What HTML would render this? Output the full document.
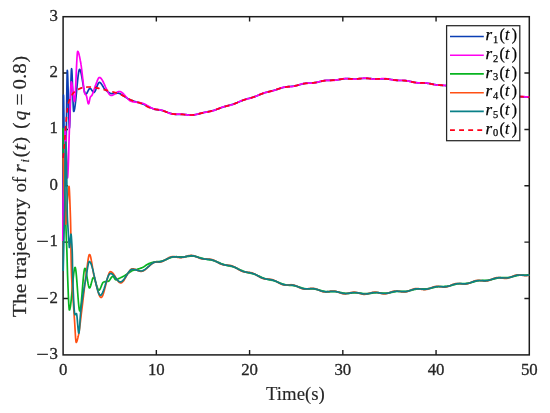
<!DOCTYPE html>
<html lang="en"><head><meta charset="utf-8"><title>Trajectory of r_i(t)</title>
<style>html,body{margin:0;padding:0;background:#fff}svg{display:block}</style></head>
<body>
<svg width="550" height="413" viewBox="0 0 550 413">
<rect width="550" height="413" fill="#fff"/>
<g stroke="#1c1c1c" fill="none">
<rect x="63.1" y="16.7" width="466.2" height="338.2" stroke-width="1.5"/>
<path d="M156.34 354.9 v-4.9 M156.34 16.7 v4.9 M249.58 354.9 v-4.9 M249.58 16.7 v4.9 M342.82 354.9 v-4.9 M342.82 16.7 v4.9 M436.06 354.9 v-4.9 M436.06 16.7 v4.9 M63.1 73.07 h4.9 M529.3 73.07 h-4.9 M63.1 129.43 h4.9 M529.3 129.43 h-4.9 M63.1 185.80 h4.9 M529.3 185.80 h-4.9 M63.1 242.17 h4.9 M529.3 242.17 h-4.9 M63.1 298.53 h4.9 M529.3 298.53 h-4.9 " stroke-width="1.4"/>
</g>
<g fill="none" stroke-width="1.7" stroke-linejoin="round">
<path d="M63.2 215.0 L63.3 160.4 L63.4 114.4 L63.5 95.0 L63.5 95.0 L63.6 96.8 L63.7 101.7 L63.8 108.9 L63.9 117.5 L64.0 126.7 L64.1 135.8 L64.2 143.8 L64.3 150.0 L64.3 150.0 L64.4 155.1 L64.5 160.5 L64.6 165.7 L64.7 170.8 L64.8 175.3 L64.9 179.3 L65.0 182.3 L65.1 184.3 L65.2 185.0 L65.2 185.0 L65.3 184.2 L65.4 182.0 L65.5 178.6 L65.6 174.2 L65.7 169.1 L65.8 163.4 L65.9 157.4 L66.0 151.4 L66.1 145.5 L66.2 140.0 L66.2 140.0 L66.3 134.0 L66.4 126.9 L66.5 119.0 L66.6 110.6 L66.7 102.1 L66.8 94.0 L66.9 86.5 L67.0 80.0 L67.1 74.9 L67.2 71.6 L67.3 70.4 L67.3 70.4 L67.4 70.8 L67.5 71.9 L67.6 73.6 L67.7 75.9 L67.8 78.6 L67.9 81.8 L68.0 85.3 L68.1 89.1 L68.2 93.1 L68.3 97.1 L68.4 101.3 L68.5 105.3 L68.6 109.3 L68.7 113.1 L68.8 116.6 L68.9 119.8 L69.0 122.5 L69.1 124.8 L69.2 126.5 L69.3 127.6 L69.4 128.0 L69.4 128.0 L69.5 127.6 L69.6 126.6 L69.7 125.0 L69.8 122.8 L69.9 120.2 L70.0 117.2 L70.1 113.8 L70.2 110.2 L70.3 106.3 L70.4 102.4 L70.5 98.3 L70.6 94.3 L70.7 90.4 L70.8 86.5 L70.9 82.9 L71.0 79.5 L71.1 76.5 L71.2 73.9 L71.3 71.7 L71.4 70.1 L71.5 69.1 L71.6 68.7 L71.6 68.7 L71.7 69.0 L71.8 69.8 L71.9 71.1 L72.0 72.8 L72.1 74.8 L72.2 77.2 L72.3 79.8 L72.4 82.6 L72.5 85.5 L72.6 88.6 L72.7 91.6 L72.8 94.7 L72.9 97.6 L73.0 100.4 L73.1 103.0 L73.2 105.4 L73.3 107.4 L73.4 109.1 L73.5 110.4 L73.6 111.2 L73.7 111.5 L73.7 111.5 L73.8 111.5 L73.9 111.4 L74.0 111.2 L74.1 110.9 L74.2 110.6 L74.3 110.3 L74.4 109.9 L74.5 109.4 L74.6 108.9 L74.7 108.3 L74.8 107.7 L74.9 107.0 L75.0 106.3 L75.1 105.5 L75.2 104.7 L75.3 103.9 L75.4 103.0 L75.5 102.1 L75.6 101.2 L75.7 100.3 L75.8 99.3 L75.9 98.3 L76.0 97.3 L76.1 96.3 L76.2 95.2 L76.3 94.2 L76.4 93.1 L76.5 92.1 L76.6 91.0 L76.7 89.9 L76.8 88.8 L76.9 87.8 L77.0 86.7 L77.1 85.7 L77.2 84.6 L77.3 83.6 L77.4 82.6 L77.5 81.6 L77.6 80.6 L77.7 79.7 L77.8 78.8 L77.9 77.9 L78.0 77.0 L78.1 76.2 L78.2 75.4 L78.3 74.6 L78.4 73.9 L78.5 73.2 L78.6 72.6 L78.7 72.0 L78.8 71.5 L78.9 71.0 L79.0 70.6 L79.1 70.3 L79.2 70.0 L79.3 69.7 L79.4 69.5 L79.5 69.4 L79.6 69.4 L79.6 69.4 L79.7 69.4 L79.8 69.5 L79.9 69.6 L80.0 69.7 L80.1 69.9 L80.2 70.1 L80.3 70.3 L80.4 70.6 L80.5 70.9 L80.6 71.2 L80.7 71.5 L80.8 71.9 L80.9 72.3 L81.0 72.7 L81.1 73.2 L81.2 73.6 L81.3 74.1 L81.4 74.6 L81.5 75.1 L81.6 75.6 L81.7 76.2 L81.8 76.8 L81.9 77.3 L82.0 77.9 L82.1 78.5 L82.2 79.1 L82.3 79.7 L82.4 80.3 L82.5 80.9 L82.6 81.5 L82.7 82.1 L82.8 82.7 L82.9 83.3 L83.0 83.9 L83.1 84.5 L83.2 85.1 L83.3 85.7 L83.4 86.3 L83.5 86.8 L83.6 87.4 L83.7 88.0 L83.8 88.5 L83.9 89.0 L84.0 89.5 L84.1 90.0 L84.2 90.4 L84.3 90.9 L84.4 91.3 L84.5 91.7 L84.6 92.1 L84.7 92.4 L84.8 92.7 L84.9 93.0 L85.0 93.3 L85.1 93.5 L85.2 93.7 L85.3 93.9 L85.4 94.0 L85.5 94.1 L85.6 94.2 L85.7 94.2 L85.7 94.2 L85.8 94.2 L85.9 94.2 L86.0 94.1 L86.1 94.1 L86.2 94.0 L86.3 93.9 L86.4 93.8 L86.5 93.7 L86.6 93.5 L86.7 93.4 L86.8 93.3 L86.9 93.1 L87.0 92.9 L87.1 92.8 L87.2 92.6 L87.3 92.4 L87.4 92.2 L87.5 92.0 L87.6 91.8 L87.7 91.6 L87.8 91.4 L87.9 91.2 L88.0 91.0 L88.1 90.8 L88.2 90.6 L88.3 90.4 L88.4 90.2 L88.5 90.0 L88.6 89.8 L88.7 89.7 L88.8 89.5 L88.9 89.3 L89.0 89.2 L89.1 89.1 L89.2 88.9 L89.3 88.8 L89.4 88.7 L89.5 88.6 L89.6 88.5 L89.7 88.5 L89.8 88.4 L89.9 88.4 L90.0 88.4 L90.0 88.4 L90.1 88.4 L90.2 88.4 L90.3 88.5 L90.4 88.5 L90.5 88.6 L90.6 88.6 L90.7 88.7 L90.8 88.8 L90.9 88.9 L91.0 89.0 L91.1 89.2 L91.2 89.3 L91.3 89.4 L91.4 89.5 L91.5 89.7 L91.6 89.8 L91.7 90.0 L91.8 90.1 L91.9 90.3 L92.0 90.4 L92.1 90.6 L92.2 90.7 L92.3 90.9 L92.4 91.0 L92.5 91.2 L92.6 91.3 L92.7 91.4 L92.8 91.5 L92.9 91.7 L93.0 91.8 L93.1 91.9 L93.2 92.0 L93.3 92.1 L93.4 92.1 L93.5 92.2 L93.6 92.2 L93.7 92.3 L93.8 92.3 L93.9 92.3 L93.9 92.3 L94.0 92.3 L94.1 92.3 L94.2 92.2 L94.3 92.2 L94.4 92.1 L94.5 92.0 L94.6 91.9 L94.7 91.7 L94.8 91.6 L94.9 91.4 L95.0 91.3 L95.1 91.1 L95.2 90.9 L95.3 90.7 L95.4 90.5 L95.5 90.3 L95.6 90.0 L95.7 89.8 L95.8 89.6 L95.9 89.3 L96.0 89.1 L96.1 88.8 L96.2 88.6 L96.3 88.3 L96.4 88.0 L96.5 87.8 L96.6 87.5 L96.7 87.2 L96.8 86.9 L96.9 86.7 L97.0 86.4 L97.1 86.1 L97.2 85.9 L97.3 85.6 L97.4 85.4 L97.5 85.1 L97.6 84.9 L97.7 84.7 L97.8 84.4 L97.9 84.2 L98.0 84.0 L98.1 83.8 L98.2 83.6 L98.3 83.4 L98.4 83.3 L98.5 83.1 L98.6 83.0 L98.7 82.8 L98.8 82.7 L98.9 82.6 L99.0 82.5 L99.1 82.5 L99.2 82.4 L99.3 82.4 L99.4 82.4 L99.4 82.4 L99.5 82.4 L99.6 82.4 L99.7 82.4 L99.8 82.5 L99.9 82.5 L100.0 82.6 L100.5 82.9 L101.0 83.5 L101.5 84.1 L102.0 84.9 L102.5 85.7 L103.0 86.5 L103.5 87.4 L104.0 88.2 L104.5 88.9 L105.0 89.5 L105.5 90.0 L106.0 90.4 L106.5 90.8 L107.0 91.2 L107.5 91.6 L108.0 92.0 L108.5 92.3 L109.0 92.6 L109.5 92.9 L110.0 93.2 L110.5 93.4 L111.0 93.5 L111.5 93.6 L111.8 93.6 L112.0 93.6 L112.5 93.6 L113.0 93.6 L113.5 93.5 L114.0 93.5 L114.5 93.4 L115.0 93.4 L115.5 93.4 L116.0 93.3 L116.5 93.3 L117.0 93.2 L117.5 93.2 L118.0 93.2 L118.2 93.2 L118.5 93.2 L119.0 93.3 L119.5 93.5 L120.0 93.7 L120.5 93.9 L121.0 94.2 L121.5 94.6 L122.0 94.9 L122.5 95.2 L123.0 95.6 L123.5 95.9 L124.0 96.2 L124.5 96.5 L125.0 96.8 L125.5 97.1 L126.0 97.4 L126.5 97.8 L127.0 98.1 L127.5 98.4 L128.0 98.7 L128.5 99.0 L129.0 99.3 L129.5 99.6 L130.0 99.8 L130.5 100.0 L131.0 100.2 L131.5 100.4 L132.0 100.6 L132.5 100.8 L133.0 100.9 L133.5 101.1 L134.0 101.2 L134.5 101.4 L135.0 101.5 L135.5 101.7 L136.0 101.8 L136.5 102.0 L137.0 102.1 L137.5 102.3 L138.0 102.4 L138.5 102.5 L139.0 102.7 L139.5 102.8 L140.0 103.0 L140.5 103.2 L141.0 103.3 L141.5 103.5 L141.8 103.6 L142.0 103.7 L142.5 103.9 L143.0 104.1 L143.5 104.3 L144.0 104.5 L144.5 104.7 L145.0 105.0 L145.5 105.2 L146.0 105.5 L146.5 105.7 L147.0 106.0 L147.5 106.2 L148.0 106.5 L148.5 106.7 L149.0 107.0 L149.5 107.2 L150.0 107.4 L150.5 107.7 L151.0 107.9 L151.5 108.1 L152.0 108.3 L152.5 108.5 L153.0 108.7 L153.5 108.9 L154.0 109.0 L154.5 109.2 L155.0 109.3 L155.5 109.4 L156.0 109.5 L156.5 109.6 L157.0 109.6 L157.5 109.7 L158.0 109.8 L158.5 109.8 L159.0 109.9 L159.5 109.9 L160.0 110.0 L160.5 110.1 L161.0 110.2 L161.5 110.3 L162.0 110.4 L162.5 110.6 L163.0 110.7 L163.5 110.9 L164.0 111.0 L164.5 111.2 L165.0 111.4 L165.5 111.6 L166.0 111.8 L166.5 112.0 L167.0 112.2 L167.5 112.3 L168.0 112.5 L168.5 112.7 L169.0 112.9 L169.5 113.1 L170.0 113.3 L170.5 113.4 L171.0 113.6 L171.5 113.7 L172.0 113.8 L172.5 113.9 L173.0 114.0 L173.5 114.1 L174.0 114.2 L174.5 114.2 L175.0 114.3 L175.5 114.3 L176.0 114.3 L176.5 114.3 L177.0 114.3 L177.5 114.4 L178.0 114.4 L178.5 114.3 L179.0 114.3 L179.5 114.3 L180.0 114.3 L180.5 114.3 L181.0 114.3 L181.5 114.4 L182.0 114.4 L182.5 114.4 L183.0 114.4 L183.5 114.4 L184.0 114.5 L184.5 114.5 L185.0 114.6 L185.5 114.6 L186.0 114.7 L186.5 114.7 L187.0 114.8 L187.5 114.8 L188.0 114.9 L188.5 114.9 L189.0 115.0 L189.5 115.0 L190.0 115.0 L190.5 115.0 L191.0 115.0 L191.5 115.0 L192.0 115.0 L192.5 115.0 L193.0 115.0 L193.5 114.9 L194.0 114.9 L194.5 114.8 L195.0 114.7 L195.5 114.6 L196.0 114.5 L196.5 114.4 L197.0 114.3 L197.5 114.2 L198.0 114.1 L198.5 114.0 L199.0 113.8 L199.5 113.7 L200.0 113.6 L200.5 113.4 L201.0 113.3 L201.5 113.1 L202.0 113.0 L202.5 112.9 L203.0 112.8 L203.5 112.6 L204.0 112.5 L204.5 112.4 L205.0 112.3 L205.5 112.2 L206.0 112.1 L206.5 112.0 L207.0 111.9 L207.5 111.8 L208.0 111.7 L208.5 111.6 L209.0 111.5 L209.5 111.4 L210.0 111.3 L210.5 111.2 L211.0 111.1 L211.5 111.0 L212.0 110.9 L212.5 110.7 L213.0 110.6 L213.5 110.5 L214.0 110.3 L214.5 110.2 L215.0 110.0 L215.5 109.8 L216.0 109.7 L216.5 109.5 L217.0 109.3 L217.5 109.1 L218.0 108.9 L218.5 108.8 L219.0 108.6 L219.5 108.4 L220.0 108.2 L220.5 108.0 L221.0 107.8 L221.5 107.6 L222.0 107.4 L222.5 107.3 L223.0 107.1 L223.5 106.9 L224.0 106.8 L224.5 106.6 L225.0 106.4 L225.5 106.3 L226.0 106.2 L226.5 106.0 L227.0 105.9 L227.5 105.8 L228.0 105.6 L228.5 105.5 L229.0 105.4 L229.5 105.2 L230.0 105.1 L230.5 105.0 L231.0 104.8 L231.5 104.7 L232.0 104.6 L232.5 104.4 L233.0 104.3 L233.5 104.1 L234.0 103.9 L234.5 103.7 L235.0 103.6 L235.5 103.4 L236.0 103.2 L236.5 103.0 L237.0 102.8 L237.5 102.6 L238.0 102.3 L238.5 102.1 L239.0 101.9 L239.5 101.7 L240.0 101.5 L240.5 101.3 L241.0 101.1 L241.5 100.9 L242.0 100.6 L242.5 100.4 L243.0 100.3 L243.5 100.1 L244.0 99.9 L244.5 99.7 L245.0 99.5 L245.5 99.4 L246.0 99.2 L246.5 99.1 L247.0 98.9 L247.5 98.8 L248.0 98.6 L248.5 98.5 L249.0 98.4 L249.5 98.2 L250.0 98.1 L250.5 98.0 L251.0 97.8 L251.5 97.7 L252.0 97.5 L252.5 97.4 L253.0 97.2 L253.5 97.1 L254.0 96.9 L254.5 96.7 L255.0 96.6 L255.5 96.4 L256.0 96.2 L256.5 96.0 L257.0 95.8 L257.5 95.6 L258.0 95.4 L258.5 95.2 L259.0 95.0 L259.5 94.8 L260.0 94.6 L260.5 94.4 L261.0 94.2 L261.5 94.0 L262.0 93.8 L262.5 93.6 L263.0 93.4 L263.5 93.2 L264.0 93.0 L264.5 92.9 L265.0 92.7 L265.5 92.5 L266.0 92.4 L266.5 92.3 L267.0 92.1 L267.5 92.0 L268.0 91.9 L268.5 91.7 L269.0 91.6 L269.5 91.5 L270.0 91.4 L270.5 91.2 L271.0 91.1 L271.5 91.0 L272.0 90.9 L272.5 90.7 L273.0 90.6 L273.5 90.5 L274.0 90.3 L274.5 90.2 L275.0 90.1 L275.5 89.9 L276.0 89.8 L276.5 89.6 L277.0 89.4 L277.5 89.3 L278.0 89.1 L278.5 88.9 L279.0 88.8 L279.5 88.6 L280.0 88.4 L280.5 88.3 L281.0 88.1 L281.5 88.0 L282.0 87.8 L282.5 87.7 L283.0 87.5 L283.5 87.4 L284.0 87.3 L284.5 87.2 L285.0 87.1 L285.5 87.0 L286.0 86.9 L286.5 86.9 L287.0 86.8 L287.5 86.7 L288.0 86.7 L288.5 86.6 L289.0 86.6 L289.5 86.6 L290.0 86.5 L290.5 86.5 L291.0 86.4 L291.5 86.4 L292.0 86.3 L292.5 86.3 L293.0 86.2 L293.5 86.2 L294.0 86.1 L294.5 86.0 L295.0 85.9 L295.5 85.8 L296.0 85.7 L296.5 85.6 L297.0 85.5 L297.5 85.3 L298.0 85.2 L298.5 85.1 L299.0 84.9 L299.5 84.8 L300.0 84.6 L300.5 84.5 L301.0 84.3 L301.5 84.2 L302.0 84.1 L302.5 83.9 L303.0 83.8 L303.5 83.7 L304.0 83.6 L304.5 83.5 L305.0 83.4 L305.5 83.4 L306.0 83.3 L306.5 83.2 L307.0 83.2 L307.5 83.2 L308.0 83.1 L308.5 83.1 L309.0 83.1 L309.5 83.1 L310.0 83.0 L310.5 83.0 L311.0 83.0 L311.5 83.0 L312.0 82.9 L312.5 82.9 L313.0 82.9 L313.5 82.8 L314.0 82.8 L314.5 82.7 L315.0 82.7 L315.5 82.6 L316.0 82.5 L316.5 82.4 L317.0 82.3 L317.5 82.2 L318.0 82.1 L318.5 82.0 L319.0 81.9 L319.5 81.7 L320.0 81.6 L320.5 81.5 L321.0 81.4 L321.5 81.2 L322.0 81.1 L322.5 81.0 L323.0 80.9 L323.5 80.8 L324.0 80.7 L324.5 80.6 L325.0 80.6 L325.5 80.5 L326.0 80.4 L326.5 80.4 L327.0 80.4 L327.5 80.3 L328.0 80.3 L328.5 80.3 L329.0 80.3 L329.5 80.3 L330.0 80.3 L330.5 80.3 L331.0 80.2 L331.5 80.2 L332.0 80.2 L332.5 80.2 L333.0 80.2 L333.5 80.2 L334.0 80.2 L334.5 80.1 L335.0 80.1 L335.5 80.1 L336.0 80.0 L336.5 80.0 L337.0 79.9 L337.5 79.8 L338.0 79.8 L338.5 79.7 L339.0 79.6 L339.5 79.5 L340.0 79.4 L340.5 79.3 L341.0 79.3 L341.5 79.2 L342.0 79.1 L342.5 79.0 L343.0 79.0 L343.5 78.9 L344.0 78.8 L344.5 78.8 L345.0 78.7 L345.5 78.7 L346.0 78.7 L346.5 78.7 L347.0 78.7 L347.5 78.7 L348.0 78.7 L348.5 78.7 L349.0 78.7 L349.5 78.7 L350.0 78.7 L350.5 78.8 L351.0 78.8 L351.5 78.8 L352.0 78.9 L352.5 78.9 L353.0 78.9 L353.5 78.9 L354.0 79.0 L354.5 79.0 L355.0 79.0 L355.5 79.0 L356.0 79.0 L356.5 78.9 L357.0 78.9 L357.5 78.9 L358.0 78.9 L358.5 78.8 L359.0 78.8 L359.5 78.7 L360.0 78.7 L360.5 78.6 L361.0 78.6 L361.5 78.5 L362.0 78.5 L362.5 78.5 L363.0 78.4 L363.5 78.4 L364.0 78.4 L364.5 78.3 L365.0 78.3 L365.5 78.3 L366.0 78.3 L366.5 78.3 L367.0 78.3 L367.5 78.3 L368.0 78.4 L368.5 78.4 L369.0 78.5 L369.5 78.5 L370.0 78.5 L370.5 78.6 L371.0 78.6 L371.5 78.7 L372.0 78.8 L372.5 78.8 L373.0 78.9 L373.5 78.9 L374.0 78.9 L374.5 79.0 L375.0 79.0 L375.5 79.0 L376.0 79.0 L376.5 79.0 L377.0 79.0 L377.5 79.0 L378.0 79.0 L378.5 79.0 L379.0 79.0 L379.5 79.0 L380.0 78.9 L380.5 78.9 L381.0 78.9 L381.5 78.9 L382.0 78.8 L382.5 78.8 L383.0 78.8 L383.5 78.8 L384.0 78.8 L384.5 78.8 L385.0 78.8 L385.5 78.8 L386.0 78.8 L386.5 78.8 L387.0 78.9 L387.5 78.9 L388.0 79.0 L388.5 79.1 L389.0 79.1 L389.5 79.2 L390.0 79.3 L390.5 79.4 L391.0 79.5 L391.5 79.5 L392.0 79.6 L392.5 79.7 L393.0 79.8 L393.5 79.9 L394.0 80.0 L394.5 80.0 L395.0 80.1 L395.5 80.2 L396.0 80.2 L396.5 80.3 L397.0 80.3 L397.5 80.4 L398.0 80.4 L398.5 80.4 L399.0 80.5 L399.5 80.5 L400.0 80.5 L400.5 80.5 L401.0 80.5 L401.5 80.5 L402.0 80.5 L402.5 80.5 L403.0 80.5 L403.5 80.6 L404.0 80.6 L404.5 80.6 L405.0 80.6 L405.5 80.7 L406.0 80.7 L406.5 80.8 L407.0 80.9 L407.5 80.9 L408.0 81.0 L408.5 81.1 L409.0 81.2 L409.5 81.3 L410.0 81.4 L410.5 81.5 L411.0 81.6 L411.5 81.7 L412.0 81.8 L412.5 81.9 L413.0 82.1 L413.5 82.2 L414.0 82.3 L414.5 82.4 L415.0 82.5 L415.5 82.5 L416.0 82.6 L416.5 82.7 L417.0 82.7 L417.5 82.8 L418.0 82.8 L418.5 82.9 L419.0 82.9 L419.5 82.9 L420.0 82.9 L420.5 83.0 L421.0 83.0 L421.5 83.0 L422.0 83.0 L422.5 83.0 L423.0 83.0 L423.5 83.0 L424.0 83.0 L424.5 83.0 L425.0 83.1 L425.5 83.1 L426.0 83.1 L426.5 83.2 L427.0 83.2 L427.5 83.3 L428.0 83.3 L428.5 83.4 L429.0 83.5 L429.5 83.5 L430.0 83.6 L430.5 83.7 L431.0 83.8 L431.5 83.9 L432.0 84.0 L432.5 84.1 L433.0 84.2 L433.5 84.3 L434.0 84.4 L434.5 84.5 L435.0 84.6 L435.5 84.7 L436.0 84.8 L436.5 84.9 L437.0 84.9 L437.5 85.0 L438.0 85.1 L438.5 85.1 L439.0 85.2 L439.5 85.2 L440.0 85.2 L440.5 85.3 L441.0 85.3 L441.5 85.3 L442.0 85.3 L442.5 85.4 L443.0 85.4 L443.5 85.4 L444.0 85.5 L444.5 85.5 L445.0 85.5 L445.5 85.6 L446.0 85.6 L446.5 85.7 L447.0 85.8 L447.5 85.8 L448.0 85.9 L448.5 86.0 L449.0 86.1 L449.5 86.2 L450.0 86.3 L450.5 86.4 L451.0 86.5 L451.5 86.6 L452.0 86.7 L452.5 86.8 L453.0 87.0 L453.5 87.1 L454.0 87.2 L454.5 87.3 L455.0 87.4 L455.5 87.5 L456.0 87.6 L456.5 87.7 L457.0 87.8 L457.5 87.8 L458.0 87.9 L458.5 88.0 L459.0 88.0 L459.5 88.1 L460.0 88.1 L460.5 88.2 L461.0 88.2 L461.5 88.2 L462.0 88.3 L462.5 88.3 L463.0 88.3 L463.5 88.3 L464.0 88.4 L464.5 88.4 L465.0 88.4 L465.5 88.5 L466.0 88.5 L466.5 88.6 L467.0 88.7 L467.5 88.7 L468.0 88.8 L468.5 88.9 L469.0 89.0 L469.5 89.1 L470.0 89.2 L470.5 89.3 L471.0 89.4 L471.5 89.5 L472.0 89.7 L472.5 89.8 L473.0 89.9 L473.5 90.0 L474.0 90.1 L474.5 90.3 L475.0 90.4 L475.5 90.5 L476.0 90.6 L476.5 90.7 L477.0 90.8 L477.5 90.9 L478.0 91.0 L478.5 91.0 L479.0 91.1 L479.5 91.1 L480.0 91.2 L480.5 91.2 L481.0 91.3 L481.5 91.3 L482.0 91.3 L482.5 91.4 L483.0 91.4 L483.5 91.4 L484.0 91.4 L484.5 91.5 L485.0 91.5 L485.5 91.5 L486.0 91.6 L486.5 91.6 L487.0 91.7 L487.5 91.7 L488.0 91.8 L488.5 91.9 L489.0 91.9 L489.5 92.0 L490.0 92.1 L490.5 92.2 L491.0 92.3 L491.5 92.4 L492.0 92.5 L492.5 92.6 L493.0 92.8 L493.5 92.9 L494.0 93.0 L494.5 93.1 L495.0 93.2 L495.5 93.3 L496.0 93.4 L496.5 93.5 L497.0 93.6 L497.5 93.7 L498.0 93.7 L498.5 93.8 L499.0 93.9 L499.5 93.9 L500.0 94.0 L500.5 94.0 L501.0 94.0 L501.5 94.1 L502.0 94.1 L502.5 94.1 L503.0 94.1 L503.5 94.2 L504.0 94.2 L504.5 94.2 L505.0 94.2 L505.5 94.2 L506.0 94.3 L506.5 94.3 L507.0 94.4 L507.5 94.4 L508.0 94.5 L508.5 94.5 L509.0 94.6 L509.5 94.7 L510.0 94.8 L510.5 94.9 L511.0 95.0 L511.5 95.1 L512.0 95.2 L512.5 95.3 L513.0 95.4 L513.5 95.5 L514.0 95.6 L514.5 95.7 L515.0 95.8 L515.5 95.9 L516.0 96.0 L516.5 96.1 L517.0 96.2 L517.5 96.3 L518.0 96.4 L518.5 96.5 L519.0 96.5 L519.5 96.6 L520.0 96.6 L520.5 96.7 L521.0 96.7 L521.5 96.8 L522.0 96.8 L522.5 96.8 L523.0 96.8 L523.5 96.9 L524.0 96.9 L524.5 96.9 L525.0 96.9 L525.5 96.9 L526.0 97.0 L526.5 97.0 L527.0 97.0 L527.5 97.1 L528.0 97.1 L528.5 97.2 L529.0 97.3 L529.3 97.3" stroke="#0b3fb4"/>
<path d="M62.8 241.0 L62.9 229.1 L63.0 217.2 L63.1 206.2 L63.2 196.8 L63.3 190.0 L63.3 190.0 L63.4 184.8 L63.5 179.8 L63.6 174.9 L63.7 170.2 L63.8 165.7 L63.9 161.3 L64.0 157.2 L64.1 153.4 L64.2 149.7 L64.3 146.3 L64.4 143.2 L64.5 140.4 L64.6 137.8 L64.7 135.5 L64.8 133.6 L64.9 132.0 L65.0 130.7 L65.1 129.8 L65.2 129.2 L65.3 129.0 L65.3 129.0 L65.4 129.3 L65.5 130.1 L65.6 131.5 L65.7 133.3 L65.8 135.4 L65.9 137.9 L66.0 140.7 L66.1 143.7 L66.2 146.9 L66.3 150.2 L66.4 153.5 L66.5 156.8 L66.6 160.1 L66.7 163.3 L66.8 166.3 L66.9 169.1 L67.0 171.6 L67.1 173.7 L67.2 175.5 L67.3 176.9 L67.4 177.7 L67.5 178.0 L67.5 178.0 L67.6 177.7 L67.7 176.9 L67.8 175.7 L67.9 174.1 L68.0 172.2 L68.1 170.0 L68.2 167.7 L68.3 165.2 L68.4 162.6 L68.5 160.0 L68.5 160.0 L68.6 156.9 L68.7 152.9 L68.8 148.8 L68.9 145.0 L68.9 145.0 L69.0 141.6 L69.1 138.4 L69.2 135.3 L69.3 132.3 L69.4 129.3 L69.5 126.2 L69.6 123.2 L69.7 120.0 L69.7 120.0 L69.8 116.6 L69.9 113.0 L70.0 109.4 L70.1 105.9 L70.2 102.7 L70.3 100.0 L70.3 100.0 L70.4 97.5 L70.5 95.0 L70.6 92.5 L70.7 90.1 L70.8 87.9 L70.9 85.9 L71.0 84.2 L71.1 82.9 L71.2 82.1 L71.3 81.8 L71.3 81.8 L71.4 81.9 L71.5 82.0 L71.6 82.3 L71.7 82.6 L71.8 83.1 L71.9 83.6 L72.0 84.2 L72.1 84.9 L72.2 85.6 L72.3 86.3 L72.4 87.2 L72.5 88.0 L72.6 88.9 L72.7 89.8 L72.8 90.7 L72.9 91.6 L73.0 92.5 L73.1 93.4 L73.2 94.3 L73.3 95.2 L73.4 96.0 L73.5 96.9 L73.6 97.6 L73.7 98.3 L73.8 99.0 L73.9 99.6 L74.0 100.1 L74.1 100.6 L74.2 100.9 L74.3 101.2 L74.4 101.3 L74.5 101.4 L74.5 101.4 L74.6 101.3 L74.7 100.8 L74.8 100.2 L74.9 99.3 L75.0 98.1 L75.1 96.8 L75.2 95.3 L75.3 93.6 L75.4 91.8 L75.5 89.8 L75.6 87.7 L75.7 85.6 L75.8 83.3 L75.9 81.1 L76.0 78.7 L76.1 76.4 L76.2 74.1 L76.3 71.7 L76.4 69.5 L76.5 67.2 L76.6 65.1 L76.7 63.0 L76.8 61.0 L76.9 59.2 L77.0 57.5 L77.1 56.0 L77.2 54.7 L77.3 53.5 L77.4 52.6 L77.5 52.0 L77.6 51.5 L77.7 51.4 L77.7 51.4 L77.8 51.4 L77.9 51.5 L78.0 51.6 L78.1 51.7 L78.2 51.9 L78.3 52.1 L78.4 52.3 L78.5 52.6 L78.6 52.9 L78.7 53.2 L78.8 53.5 L78.9 53.9 L79.0 54.3 L79.1 54.7 L79.2 55.1 L79.3 55.5 L79.4 56.0 L79.5 56.4 L79.6 56.9 L79.7 57.4 L79.8 57.9 L79.9 58.4 L80.0 58.9 L80.1 59.4 L80.2 59.9 L80.3 60.5 L80.4 61.0 L80.5 61.5 L80.6 62.0 L80.6 62.0 L80.7 62.5 L80.8 63.1 L80.9 63.7 L81.0 64.4 L81.1 65.0 L81.2 65.8 L81.3 66.5 L81.4 67.3 L81.5 68.1 L81.6 68.9 L81.7 69.7 L81.8 70.6 L81.9 71.4 L82.0 72.3 L82.1 73.1 L82.2 74.0 L82.3 74.9 L82.4 75.8 L82.5 76.6 L82.6 77.5 L82.7 78.3 L82.8 79.2 L82.9 80.0 L82.9 80.0 L83.0 80.8 L83.1 81.8 L83.2 82.7 L83.3 83.7 L83.4 84.7 L83.5 85.7 L83.6 86.7 L83.7 87.7 L83.8 88.7 L83.9 89.5 L84.0 90.3 L84.1 91.0 L84.2 91.7 L84.3 92.1 L84.4 92.5 L84.4 92.5 L84.5 92.8 L84.6 93.0 L84.7 93.2 L84.8 93.4 L84.9 93.6 L85.0 93.8 L85.1 93.9 L85.2 94.0 L85.3 94.2 L85.4 94.3 L85.5 94.4 L85.6 94.5 L85.7 94.6 L85.8 94.8 L85.9 94.9 L86.0 95.0 L86.1 95.2 L86.2 95.4 L86.3 95.6 L86.4 95.8 L86.4 95.8 L86.5 96.1 L86.6 96.4 L86.7 96.8 L86.8 97.2 L86.9 97.6 L87.0 98.1 L87.1 98.6 L87.2 99.1 L87.3 99.7 L87.4 100.2 L87.5 100.7 L87.6 101.2 L87.7 101.7 L87.8 102.2 L87.9 102.6 L88.0 103.0 L88.1 103.3 L88.2 103.5 L88.3 103.7 L88.4 103.9 L88.5 103.9 L88.5 103.9 L88.6 103.9 L88.7 103.7 L88.8 103.5 L88.9 103.2 L89.0 102.9 L89.1 102.5 L89.2 102.1 L89.3 101.6 L89.4 101.1 L89.5 100.6 L89.6 100.1 L89.7 99.6 L89.8 99.1 L89.9 98.6 L90.0 98.2 L90.1 97.8 L90.2 97.5 L90.3 97.2 L90.4 97.0 L90.4 97.0 L90.5 96.8 L90.6 96.7 L90.7 96.6 L90.8 96.5 L90.9 96.4 L91.0 96.3 L91.1 96.2 L91.2 96.1 L91.3 96.0 L91.4 95.9 L91.5 95.8 L91.6 95.7 L91.7 95.6 L91.8 95.4 L91.9 95.3 L91.9 95.3 L92.0 95.1 L92.1 95.0 L92.2 94.8 L92.3 94.6 L92.4 94.4 L92.5 94.1 L92.6 93.9 L92.7 93.7 L92.8 93.4 L92.9 93.1 L93.0 92.9 L93.1 92.6 L93.2 92.3 L93.3 92.0 L93.4 91.7 L93.5 91.4 L93.6 91.1 L93.7 90.8 L93.8 90.5 L93.9 90.1 L94.0 89.8 L94.1 89.5 L94.2 89.2 L94.3 88.9 L94.4 88.6 L94.5 88.3 L94.6 88.0 L94.7 87.7 L94.8 87.4 L94.9 87.1 L95.0 86.8 L95.1 86.5 L95.2 86.2 L95.3 86.0 L95.4 85.7 L95.5 85.5 L95.5 85.5 L95.6 85.3 L95.7 85.0 L95.8 84.8 L95.9 84.5 L96.0 84.2 L96.1 84.0 L96.2 83.7 L96.3 83.4 L96.4 83.2 L96.5 82.9 L96.6 82.6 L96.7 82.3 L96.8 82.1 L96.9 81.8 L97.0 81.5 L97.1 81.3 L97.2 81.0 L97.3 80.7 L97.4 80.5 L97.5 80.2 L97.6 80.0 L97.7 79.8 L97.8 79.5 L97.9 79.3 L98.0 79.1 L98.1 78.9 L98.2 78.7 L98.3 78.5 L98.4 78.4 L98.5 78.2 L98.6 78.1 L98.7 77.9 L98.8 77.8 L98.9 77.7 L99.0 77.6 L99.1 77.6 L99.2 77.5 L99.3 77.5 L99.4 77.5 L99.4 77.5 L99.5 77.5 L99.6 77.5 L99.7 77.5 L99.8 77.6 L99.9 77.6 L100.0 77.6 L100.5 77.9 L101.0 78.4 L101.5 79.0 L102.0 79.7 L102.5 80.6 L103.0 81.5 L103.5 82.5 L104.0 83.6 L104.5 84.7 L105.0 85.8 L105.5 87.0 L106.0 88.1 L106.5 89.2 L107.0 90.3 L107.5 91.3 L108.0 92.2 L108.5 93.1 L109.0 93.9 L109.5 94.5 L110.0 95.0 L110.5 95.3 L111.0 95.5 L111.2 95.5 L111.5 95.5 L112.0 95.4 L112.5 95.2 L113.0 95.0 L113.5 94.7 L114.0 94.4 L114.5 94.1 L115.0 93.7 L115.5 93.4 L116.0 93.0 L116.5 92.6 L117.0 92.3 L117.5 92.0 L118.0 91.8 L118.5 91.6 L119.0 91.5 L119.4 91.5 L119.5 91.5 L120.0 91.6 L120.5 91.7 L121.0 91.9 L121.5 92.2 L122.0 92.6 L122.5 93.0 L123.0 93.4 L123.5 93.9 L124.0 94.5 L124.5 95.0 L125.0 95.6 L125.5 96.2 L126.0 96.8 L126.5 97.3 L127.0 97.9 L127.5 98.5 L128.0 99.0 L128.5 99.5 L129.0 100.0 L129.5 100.4 L130.0 100.7 L130.5 101.0 L131.0 101.3 L131.4 101.4 L131.5 101.4 L132.0 101.5 L132.5 101.7 L133.0 101.8 L133.5 101.8 L134.0 101.9 L134.5 102.0 L135.0 102.1 L135.5 102.1 L136.0 102.2 L136.5 102.2 L137.0 102.3 L137.5 102.4 L138.0 102.4 L138.5 102.5 L139.0 102.6 L139.5 102.6 L140.0 102.7 L140.5 102.8 L141.0 102.9 L141.5 103.0 L142.0 103.1 L142.5 103.3 L143.0 103.5 L143.5 103.6 L144.0 103.9 L144.5 104.1 L145.0 104.3 L145.5 104.6 L146.0 104.9 L146.5 105.1 L147.0 105.4 L147.5 105.7 L148.0 106.0 L148.5 106.3 L149.0 106.6 L149.5 106.9 L150.0 107.1 L150.5 107.4 L151.0 107.7 L151.5 107.9 L152.0 108.2 L152.5 108.4 L153.0 108.6 L153.5 108.8 L154.0 109.0 L154.5 109.1 L155.0 109.3 L155.5 109.4 L156.0 109.4 L156.5 109.5 L157.0 109.5 L157.5 109.6 L158.0 109.6 L158.5 109.7 L159.0 109.7 L159.5 109.8 L160.0 109.9 L160.5 110.0 L161.0 110.1 L161.5 110.2 L162.0 110.3 L162.5 110.5 L163.0 110.6 L163.5 110.8 L164.0 111.0 L164.5 111.2 L165.0 111.4 L165.5 111.6 L166.0 111.8 L166.5 112.0 L167.0 112.3 L167.5 112.5 L168.0 112.7 L168.5 112.9 L169.0 113.1 L169.5 113.3 L170.0 113.4 L170.5 113.6 L171.0 113.7 L171.5 113.8 L172.0 113.9 L172.5 114.0 L173.0 114.1 L173.5 114.2 L174.0 114.2 L174.5 114.2 L175.0 114.3 L175.5 114.3 L176.0 114.3 L176.5 114.3 L177.0 114.2 L177.5 114.2 L178.0 114.2 L178.5 114.2 L179.0 114.2 L179.5 114.2 L180.0 114.2 L180.5 114.2 L181.0 114.2 L181.5 114.2 L182.0 114.2 L182.5 114.3 L183.0 114.3 L183.5 114.4 L184.0 114.4 L184.5 114.5 L185.0 114.6 L185.5 114.6 L186.0 114.7 L186.5 114.8 L187.0 114.9 L187.5 114.9 L188.0 115.0 L188.5 115.1 L189.0 115.1 L189.5 115.2 L190.0 115.2 L190.5 115.2 L191.0 115.2 L191.5 115.2 L192.0 115.2 L192.5 115.1 L193.0 115.1 L193.5 115.0 L194.0 114.9 L194.5 114.8 L195.0 114.7 L195.5 114.6 L196.0 114.5 L196.5 114.4 L197.0 114.2 L197.5 114.1 L198.0 114.0 L198.5 113.8 L199.0 113.7 L199.5 113.5 L200.0 113.4 L200.5 113.3 L201.0 113.1 L201.5 113.0 L202.0 112.9 L202.5 112.8 L203.0 112.7 L203.5 112.6 L204.0 112.5 L204.5 112.4 L205.0 112.3 L205.5 112.2 L206.0 112.1 L206.5 112.1 L207.0 112.0 L207.5 111.9 L208.0 111.8 L208.5 111.8 L209.0 111.7 L209.5 111.6 L210.0 111.5 L210.5 111.4 L211.0 111.3 L211.5 111.1 L212.0 111.0 L212.5 110.9 L213.0 110.7 L213.5 110.6 L214.0 110.4 L214.5 110.2 L215.0 110.0 L215.5 109.8 L216.0 109.7 L216.5 109.5 L217.0 109.2 L217.5 109.0 L218.0 108.8 L218.5 108.6 L219.0 108.4 L219.5 108.2 L220.0 108.0 L220.5 107.8 L221.0 107.6 L221.5 107.5 L222.0 107.3 L222.5 107.1 L223.0 107.0 L223.5 106.8 L224.0 106.7 L224.5 106.5 L225.0 106.4 L225.5 106.3 L226.0 106.2 L226.5 106.1 L227.0 106.0 L227.5 105.8 L228.0 105.7 L228.5 105.6 L229.0 105.5 L229.5 105.4 L230.0 105.3 L230.5 105.1 L231.0 105.0 L231.5 104.9 L232.0 104.7 L232.5 104.5 L233.0 104.4 L233.5 104.2 L234.0 104.0 L234.5 103.8 L235.0 103.6 L235.5 103.4 L236.0 103.2 L236.5 102.9 L237.0 102.7 L237.5 102.5 L238.0 102.2 L238.5 102.0 L239.0 101.8 L239.5 101.6 L240.0 101.3 L240.5 101.1 L241.0 100.9 L241.5 100.7 L242.0 100.5 L242.5 100.3 L243.0 100.1 L243.5 100.0 L244.0 99.8 L244.5 99.6 L245.0 99.5 L245.5 99.4 L246.0 99.2 L246.5 99.1 L247.0 99.0 L247.5 98.8 L248.0 98.7 L248.5 98.6 L249.0 98.5 L249.5 98.4 L250.0 98.3 L250.5 98.1 L251.0 98.0 L251.5 97.8 L252.0 97.7 L252.5 97.5 L253.0 97.4 L253.5 97.2 L254.0 97.0 L254.5 96.8 L255.0 96.6 L255.5 96.4 L256.0 96.2 L256.5 96.0 L257.0 95.8 L257.5 95.6 L258.0 95.3 L258.5 95.1 L259.0 94.9 L259.5 94.6 L260.0 94.4 L260.5 94.2 L261.0 94.0 L261.5 93.8 L262.0 93.6 L262.5 93.4 L263.0 93.2 L263.5 93.1 L264.0 92.9 L264.5 92.8 L265.0 92.6 L265.5 92.5 L266.0 92.4 L266.5 92.3 L267.0 92.1 L267.5 92.0 L268.0 91.9 L268.5 91.8 L269.0 91.7 L269.5 91.6 L270.0 91.5 L270.5 91.4 L271.0 91.3 L271.5 91.2 L272.0 91.0 L272.5 90.9 L273.0 90.8 L273.5 90.6 L274.0 90.5 L274.5 90.3 L275.0 90.1 L275.5 90.0 L276.0 89.8 L276.5 89.6 L277.0 89.4 L277.5 89.2 L278.0 89.0 L278.5 88.8 L279.0 88.7 L279.5 88.5 L280.0 88.3 L280.5 88.1 L281.0 88.0 L281.5 87.8 L282.0 87.6 L282.5 87.5 L283.0 87.4 L283.5 87.3 L284.0 87.2 L284.5 87.1 L285.0 87.0 L285.5 86.9 L286.0 86.9 L286.5 86.8 L287.0 86.8 L287.5 86.8 L288.0 86.7 L288.5 86.7 L289.0 86.7 L289.5 86.7 L290.0 86.7 L290.5 86.6 L291.0 86.6 L291.5 86.6 L292.0 86.5 L292.5 86.5 L293.0 86.4 L293.5 86.3 L294.0 86.2 L294.5 86.1 L295.0 86.0 L295.5 85.9 L296.0 85.8 L296.5 85.6 L297.0 85.5 L297.5 85.3 L298.0 85.1 L298.5 85.0 L299.0 84.8 L299.5 84.7 L300.0 84.5 L300.5 84.3 L301.0 84.2 L301.5 84.0 L302.0 83.9 L302.5 83.8 L303.0 83.7 L303.5 83.6 L304.0 83.5 L304.5 83.4 L305.0 83.3 L305.5 83.3 L306.0 83.2 L306.5 83.2 L307.0 83.2 L307.5 83.2 L308.0 83.2 L308.5 83.2 L309.0 83.2 L309.5 83.2 L310.0 83.2 L310.5 83.2 L311.0 83.1 L311.5 83.1 L312.0 83.1 L312.5 83.1 L313.0 83.0 L313.5 83.0 L314.0 82.9 L314.5 82.8 L315.0 82.8 L315.5 82.7 L316.0 82.6 L316.5 82.4 L317.0 82.3 L317.5 82.2 L318.0 82.0 L318.5 81.9 L319.0 81.8 L319.5 81.6 L320.0 81.5 L320.5 81.3 L321.0 81.2 L321.5 81.1 L322.0 81.0 L322.5 80.9 L323.0 80.8 L323.5 80.7 L324.0 80.6 L324.5 80.5 L325.0 80.5 L325.5 80.4 L326.0 80.4 L326.5 80.4 L327.0 80.3 L327.5 80.3 L328.0 80.3 L328.5 80.3 L329.0 80.3 L329.5 80.4 L330.0 80.4 L330.5 80.4 L331.0 80.4 L331.5 80.4 L332.0 80.4 L332.5 80.4 L333.0 80.4 L333.5 80.3 L334.0 80.3 L334.5 80.3 L335.0 80.2 L335.5 80.2 L336.0 80.1 L336.5 80.0 L337.0 79.9 L337.5 79.8 L338.0 79.7 L338.5 79.6 L339.0 79.5 L339.5 79.4 L340.0 79.3 L340.5 79.2 L341.0 79.1 L341.5 79.0 L342.0 78.9 L342.5 78.9 L343.0 78.8 L343.5 78.7 L344.0 78.7 L344.5 78.6 L345.0 78.6 L345.5 78.6 L346.0 78.6 L346.5 78.6 L347.0 78.6 L347.5 78.6 L348.0 78.7 L348.5 78.7 L349.0 78.8 L349.5 78.8 L350.0 78.9 L350.5 78.9 L351.0 78.9 L351.5 79.0 L352.0 79.0 L352.5 79.1 L353.0 79.1 L353.5 79.1 L354.0 79.1 L354.5 79.1 L355.0 79.1 L355.5 79.1 L356.0 79.1 L356.5 79.0 L357.0 79.0 L357.5 78.9 L358.0 78.9 L358.5 78.8 L359.0 78.7 L359.5 78.7 L360.0 78.6 L360.5 78.5 L361.0 78.5 L361.5 78.4 L362.0 78.3 L362.5 78.3 L363.0 78.3 L363.5 78.2 L364.0 78.2 L364.5 78.2 L365.0 78.2 L365.5 78.2 L366.0 78.2 L366.5 78.2 L367.0 78.3 L367.5 78.3 L368.0 78.4 L368.5 78.4 L369.0 78.5 L369.5 78.6 L370.0 78.6 L370.5 78.7 L371.0 78.8 L371.5 78.8 L372.0 78.9 L372.5 79.0 L373.0 79.0 L373.5 79.1 L374.0 79.1 L374.5 79.1 L375.0 79.1 L375.5 79.1 L376.0 79.1 L376.5 79.1 L377.0 79.1 L377.5 79.1 L378.0 79.0 L378.5 79.0 L379.0 79.0 L379.5 78.9 L380.0 78.9 L380.5 78.8 L381.0 78.8 L381.5 78.7 L382.0 78.7 L382.5 78.7 L383.0 78.6 L383.5 78.6 L384.0 78.6 L384.5 78.6 L385.0 78.6 L385.5 78.7 L386.0 78.7 L386.5 78.8 L387.0 78.8 L387.5 78.9 L388.0 79.0 L388.5 79.1 L389.0 79.2 L389.5 79.3 L390.0 79.4 L390.5 79.5 L391.0 79.6 L391.5 79.7 L392.0 79.8 L392.5 79.9 L393.0 80.0 L393.5 80.1 L394.0 80.1 L394.5 80.2 L395.0 80.3 L395.5 80.3 L396.0 80.4 L396.5 80.4 L397.0 80.4 L397.5 80.4 L398.0 80.4 L398.5 80.4 L399.0 80.4 L399.5 80.4 L400.0 80.4 L400.5 80.4 L401.0 80.4 L401.5 80.4 L402.0 80.4 L402.5 80.4 L403.0 80.4 L403.5 80.4 L404.0 80.4 L404.5 80.4 L405.0 80.5 L405.5 80.5 L406.0 80.6 L406.5 80.7 L407.0 80.8 L407.5 80.9 L408.0 81.0 L408.5 81.1 L409.0 81.2 L409.5 81.3 L410.0 81.4 L410.5 81.6 L411.0 81.7 L411.5 81.8 L412.0 82.0 L412.5 82.1 L413.0 82.2 L413.5 82.3 L414.0 82.4 L414.5 82.5 L415.0 82.6 L415.5 82.7 L416.0 82.7 L416.5 82.8 L417.0 82.8 L417.5 82.9 L418.0 82.9 L418.5 82.9 L419.0 82.9 L419.5 82.9 L420.0 82.9 L420.5 82.9 L421.0 82.9 L421.5 82.9 L422.0 82.9 L422.5 82.8 L423.0 82.8 L423.5 82.8 L424.0 82.9 L424.5 82.9 L425.0 82.9 L425.5 82.9 L426.0 83.0 L426.5 83.0 L427.0 83.1 L427.5 83.2 L428.0 83.3 L428.5 83.4 L429.0 83.5 L429.5 83.6 L430.0 83.7 L430.5 83.8 L431.0 83.9 L431.5 84.0 L432.0 84.1 L432.5 84.3 L433.0 84.4 L433.5 84.5 L434.0 84.6 L434.5 84.7 L435.0 84.8 L435.5 84.8 L436.0 84.9 L436.5 85.0 L437.0 85.0 L437.5 85.1 L438.0 85.1 L438.5 85.1 L439.0 85.2 L439.5 85.2 L440.0 85.2 L440.5 85.2 L441.0 85.2 L441.5 85.2 L442.0 85.2 L442.5 85.2 L443.0 85.3 L443.5 85.3 L444.0 85.3 L444.5 85.3 L445.0 85.4 L445.5 85.4 L446.0 85.5 L446.5 85.6 L447.0 85.6 L447.5 85.7 L448.0 85.8 L448.5 85.9 L449.0 86.1 L449.5 86.2 L450.0 86.3 L450.5 86.4 L451.0 86.6 L451.5 86.7 L452.0 86.8 L452.5 87.0 L453.0 87.1 L453.5 87.2 L454.0 87.3 L454.5 87.5 L455.0 87.6 L455.5 87.7 L456.0 87.7 L456.5 87.8 L457.0 87.9 L457.5 87.9 L458.0 88.0 L458.5 88.0 L459.0 88.1 L459.5 88.1 L460.0 88.1 L460.5 88.1 L461.0 88.1 L461.5 88.1 L462.0 88.1 L462.5 88.2 L463.0 88.2 L463.5 88.2 L464.0 88.2 L464.5 88.2 L465.0 88.3 L465.5 88.3 L466.0 88.4 L466.5 88.5 L467.0 88.5 L467.5 88.6 L468.0 88.7 L468.5 88.8 L469.0 88.9 L469.5 89.1 L470.0 89.2 L470.5 89.3 L471.0 89.5 L471.5 89.6 L472.0 89.8 L472.5 89.9 L473.0 90.0 L473.5 90.2 L474.0 90.3 L474.5 90.4 L475.0 90.5 L475.5 90.7 L476.0 90.8 L476.5 90.8 L477.0 90.9 L477.5 91.0 L478.0 91.0 L478.5 91.1 L479.0 91.1 L479.5 91.2 L480.0 91.2 L480.5 91.2 L481.0 91.2 L481.5 91.2 L482.0 91.2 L482.5 91.3 L483.0 91.3 L483.5 91.3 L484.0 91.3 L484.5 91.3 L485.0 91.3 L485.5 91.4 L486.0 91.4 L486.5 91.5 L487.0 91.5 L487.5 91.6 L488.0 91.7 L488.5 91.8 L489.0 91.9 L489.5 92.0 L490.0 92.1 L490.5 92.2 L491.0 92.4 L491.5 92.5 L492.0 92.6 L492.5 92.7 L493.0 92.9 L493.5 93.0 L494.0 93.1 L494.5 93.3 L495.0 93.4 L495.5 93.5 L496.0 93.6 L496.5 93.6 L497.0 93.7 L497.5 93.8 L498.0 93.8 L498.5 93.9 L499.0 93.9 L499.5 94.0 L500.0 94.0 L500.5 94.0 L501.0 94.0 L501.5 94.0 L502.0 94.0 L502.5 94.0 L503.0 94.0 L503.5 94.0 L504.0 94.0 L504.5 94.0 L505.0 94.1 L505.5 94.1 L506.0 94.1 L506.5 94.2 L507.0 94.2 L507.5 94.3 L508.0 94.4 L508.5 94.4 L509.0 94.5 L509.5 94.6 L510.0 94.7 L510.5 94.9 L511.0 95.0 L511.5 95.1 L512.0 95.2 L512.5 95.4 L513.0 95.5 L513.5 95.6 L514.0 95.8 L514.5 95.9 L515.0 96.0 L515.5 96.1 L516.0 96.2 L516.5 96.3 L517.0 96.4 L517.5 96.5 L518.0 96.5 L518.5 96.6 L519.0 96.6 L519.5 96.7 L520.0 96.7 L520.5 96.7 L521.0 96.7 L521.5 96.7 L522.0 96.7 L522.5 96.7 L523.0 96.7 L523.5 96.7 L524.0 96.7 L524.5 96.7 L525.0 96.8 L525.5 96.8 L526.0 96.8 L526.5 96.8 L527.0 96.9 L527.5 96.9 L528.0 97.0 L528.5 97.1 L529.0 97.2 L529.3 97.2" stroke="#ff00f0"/>
<path d="M63.2 128.0 L63.3 135.9 L63.4 143.6 L63.5 150.5 L63.6 156.0 L63.6 156.0 L63.7 160.5 L63.8 164.6 L63.9 168.3 L64.0 171.8 L64.1 175.1 L64.2 178.1 L64.3 181.0 L64.4 183.7 L64.5 186.4 L64.6 189.0 L64.7 191.6 L64.8 194.3 L64.9 197.1 L65.0 200.0 L65.0 200.0 L65.1 203.0 L65.2 205.9 L65.3 208.8 L65.4 211.7 L65.5 214.6 L65.6 217.4 L65.7 220.3 L65.8 223.1 L65.9 225.8 L66.0 228.6 L66.1 231.3 L66.2 234.0 L66.2 234.0 L66.3 236.6 L66.4 239.1 L66.5 241.6 L66.6 244.0 L66.7 246.5 L66.8 249.2 L66.9 252.0 L66.9 252.0 L67.0 255.2 L67.1 258.7 L67.2 262.5 L67.3 266.2 L67.4 269.8 L67.5 273.2 L67.6 276.0 L67.6 276.0 L67.7 278.6 L67.8 281.2 L67.9 283.8 L68.0 286.4 L68.1 289.0 L68.2 291.6 L68.3 294.1 L68.4 296.5 L68.5 298.7 L68.6 300.8 L68.7 302.8 L68.8 304.6 L68.9 306.1 L69.0 307.5 L69.1 308.5 L69.2 309.3 L69.3 309.8 L69.4 310.0 L69.4 310.0 L69.5 310.0 L69.6 309.8 L69.7 309.7 L69.8 309.4 L69.9 309.1 L70.0 308.7 L70.1 308.2 L70.2 307.7 L70.3 307.1 L70.4 306.5 L70.5 305.9 L70.6 305.1 L70.7 304.4 L70.8 303.6 L70.9 302.7 L71.0 301.8 L71.1 300.9 L71.2 299.9 L71.3 299.0 L71.4 297.9 L71.5 296.9 L71.6 295.9 L71.7 294.8 L71.8 293.7 L71.9 292.6 L72.0 291.5 L72.1 290.4 L72.2 289.3 L72.3 288.1 L72.4 287.0 L72.5 285.9 L72.6 284.8 L72.7 283.7 L72.8 282.6 L72.9 281.5 L73.0 280.5 L73.1 279.5 L73.2 278.4 L73.3 277.5 L73.4 276.5 L73.5 275.6 L73.6 274.7 L73.7 273.8 L73.8 273.0 L73.9 272.3 L74.0 271.5 L74.1 270.9 L74.2 270.3 L74.3 269.7 L74.4 269.2 L74.5 268.7 L74.6 268.3 L74.7 268.0 L74.8 267.7 L74.9 267.6 L75.0 267.4 L75.1 267.4 L75.1 267.4 L75.2 267.5 L75.3 267.6 L75.4 267.9 L75.5 268.3 L75.6 268.8 L75.7 269.4 L75.8 270.0 L75.9 270.8 L76.0 271.6 L76.1 272.5 L76.2 273.4 L76.3 274.5 L76.4 275.6 L76.5 276.7 L76.6 277.9 L76.7 279.1 L76.8 280.4 L76.9 281.7 L77.0 283.0 L77.1 284.4 L77.2 285.7 L77.3 287.1 L77.4 288.5 L77.5 289.9 L77.6 291.3 L77.7 292.7 L77.8 294.0 L77.9 295.4 L78.0 296.7 L78.1 298.0 L78.2 299.3 L78.3 300.5 L78.4 301.7 L78.5 302.8 L78.6 303.9 L78.7 305.0 L78.8 305.9 L78.9 306.8 L79.0 307.6 L79.1 308.4 L79.2 309.0 L79.3 309.6 L79.4 310.1 L79.5 310.5 L79.6 310.8 L79.7 310.9 L79.8 311.0 L79.8 311.0 L79.9 311.0 L80.0 310.8 L80.1 310.6 L80.2 310.3 L80.3 309.9 L80.4 309.4 L80.5 308.8 L80.6 308.2 L80.7 307.5 L80.8 306.7 L80.9 305.9 L81.0 305.0 L81.1 304.1 L81.2 303.1 L81.3 302.1 L81.4 301.1 L81.5 300.0 L81.6 298.8 L81.7 297.7 L81.8 296.5 L81.9 295.3 L82.0 294.1 L82.1 292.8 L82.2 291.6 L82.3 290.3 L82.4 289.1 L82.5 287.8 L82.6 286.6 L82.7 285.3 L82.8 284.1 L82.9 282.9 L83.0 281.7 L83.1 280.6 L83.2 279.4 L83.3 278.3 L83.4 277.3 L83.5 276.3 L83.6 275.3 L83.7 274.4 L83.8 273.5 L83.9 272.7 L84.0 271.9 L84.1 271.2 L84.2 270.6 L84.3 270.0 L84.4 269.5 L84.5 269.1 L84.6 268.8 L84.7 268.6 L84.8 268.4 L84.9 268.4 L84.9 268.4 L85.0 268.4 L85.1 268.5 L85.2 268.6 L85.3 268.8 L85.4 269.0 L85.5 269.3 L85.6 269.6 L85.7 270.0 L85.8 270.4 L85.9 270.8 L86.0 271.2 L86.1 271.7 L86.2 272.2 L86.3 272.7 L86.4 273.3 L86.5 273.9 L86.6 274.5 L86.7 275.1 L86.8 275.7 L86.9 276.3 L87.0 276.9 L87.1 277.6 L87.2 278.2 L87.3 278.8 L87.4 279.5 L87.5 280.1 L87.6 280.7 L87.7 281.3 L87.8 281.9 L87.9 282.5 L88.0 283.1 L88.1 283.7 L88.2 284.2 L88.3 284.7 L88.4 285.2 L88.5 285.6 L88.6 286.0 L88.7 286.4 L88.8 286.8 L88.9 287.1 L89.0 287.4 L89.1 287.6 L89.2 287.8 L89.3 287.9 L89.4 288.0 L89.5 288.0 L89.5 288.0 L89.6 288.0 L89.7 287.9 L89.8 287.8 L89.9 287.7 L90.0 287.5 L90.1 287.3 L90.2 287.1 L90.3 286.9 L90.4 286.6 L90.5 286.3 L90.6 286.0 L90.7 285.7 L90.8 285.3 L90.9 284.9 L91.0 284.6 L91.1 284.2 L91.2 283.8 L91.3 283.4 L91.4 283.0 L91.5 282.6 L91.6 282.2 L91.7 281.8 L91.8 281.4 L91.9 281.0 L92.0 280.7 L92.1 280.3 L92.2 279.9 L92.3 279.6 L92.4 279.3 L92.5 279.0 L92.6 278.7 L92.7 278.5 L92.8 278.3 L92.9 278.1 L93.0 277.9 L93.1 277.8 L93.2 277.7 L93.3 277.6 L93.4 277.6 L93.4 277.6 L93.5 277.6 L93.6 277.6 L93.7 277.7 L93.8 277.8 L93.9 277.9 L94.0 278.0 L94.1 278.2 L94.2 278.3 L94.3 278.5 L94.4 278.7 L94.5 278.9 L94.6 279.1 L94.7 279.4 L94.8 279.6 L94.9 279.9 L95.0 280.2 L95.1 280.5 L95.2 280.8 L95.3 281.1 L95.4 281.4 L95.5 281.7 L95.6 282.0 L95.7 282.4 L95.8 282.7 L95.9 283.0 L96.0 283.4 L96.1 283.7 L96.2 284.1 L96.3 284.4 L96.4 284.8 L96.5 285.1 L96.6 285.4 L96.7 285.8 L96.8 286.1 L96.9 286.4 L97.0 286.7 L97.1 287.0 L97.2 287.3 L97.3 287.6 L97.4 287.9 L97.5 288.2 L97.6 288.4 L97.7 288.7 L97.8 288.9 L97.9 289.1 L98.0 289.3 L98.1 289.5 L98.2 289.6 L98.3 289.8 L98.4 289.9 L98.5 290.0 L98.6 290.1 L98.7 290.2 L98.8 290.2 L98.9 290.2 L98.9 290.2 L99.0 290.2 L99.1 290.2 L99.2 290.1 L99.3 290.0 L99.4 290.0 L99.5 289.9 L99.6 289.7 L99.7 289.6 L99.8 289.5 L99.9 289.3 L100.0 289.1 L100.5 288.1 L101.0 286.9 L101.5 285.6 L102.0 284.4 L102.5 283.3 L103.0 282.5 L103.5 282.0 L103.6 282.0 L104.0 281.9 L104.5 281.8 L105.0 281.7 L105.5 281.6 L106.0 281.6 L106.5 281.5 L107.0 281.5 L107.5 281.4 L108.0 281.3 L108.5 281.2 L109.0 280.9 L109.5 280.4 L110.0 279.6 L110.5 278.8 L111.0 278.0 L111.5 277.3 L112.0 276.7 L112.5 276.4 L112.8 276.3 L113.0 276.3 L113.5 276.8 L114.0 277.5 L114.5 278.4 L115.0 279.2 L115.5 279.7 L115.8 279.8 L116.0 279.8 L116.5 279.7 L117.0 279.4 L117.5 279.2 L118.0 278.9 L118.2 278.8 L118.5 278.7 L119.0 278.4 L119.5 278.2 L120.0 278.0 L120.5 277.8 L121.0 277.5 L121.5 277.3 L122.0 277.1 L122.5 276.8 L123.0 276.5 L123.5 276.3 L124.0 276.0 L124.2 275.9 L124.5 275.7 L125.0 275.4 L125.5 275.1 L126.0 274.8 L126.5 274.4 L127.0 274.1 L127.5 273.7 L128.0 273.4 L128.5 273.0 L129.0 272.7 L129.5 272.4 L129.6 272.3 L130.0 272.0 L130.5 271.7 L131.0 271.4 L131.5 271.1 L132.0 270.8 L132.5 270.6 L132.9 270.4 L133.0 270.4 L133.5 270.2 L134.0 270.1 L134.5 269.9 L135.0 269.8 L135.5 269.7 L136.0 269.6 L136.5 269.5 L137.0 269.4 L137.3 269.3 L137.5 269.2 L138.0 269.1 L138.5 268.9 L139.0 268.8 L139.5 268.6 L140.0 268.5 L140.5 268.3 L141.0 268.1 L141.5 267.9 L142.0 267.7 L142.5 267.5 L142.7 267.4 L143.0 267.3 L143.5 267.0 L144.0 266.7 L144.5 266.3 L145.0 266.0 L145.5 265.6 L146.0 265.3 L146.5 264.9 L147.0 264.7 L147.1 264.6 L147.5 264.4 L148.0 264.1 L148.5 263.9 L149.0 263.6 L149.5 263.4 L150.0 263.2 L150.5 263.0 L151.0 262.8 L151.4 262.7 L151.5 262.7 L152.0 262.5 L152.5 262.4 L153.0 262.3 L153.5 262.2 L154.0 262.1 L154.5 262.0 L155.0 261.9 L155.5 261.9 L156.0 261.8 L156.5 261.7 L157.0 261.7 L157.5 261.7 L158.0 261.6 L158.5 261.6 L159.0 261.6 L159.5 261.5 L160.0 261.4 L160.5 261.4 L161.0 261.3 L161.5 261.2 L162.0 261.0 L162.5 260.9 L163.0 260.8 L163.5 260.6 L164.0 260.4 L164.5 260.2 L165.0 260.0 L165.5 259.8 L166.0 259.6 L166.5 259.4 L167.0 259.2 L167.5 259.0 L168.0 258.7 L168.5 258.5 L169.0 258.3 L169.5 258.1 L170.0 257.9 L170.5 257.7 L171.0 257.5 L171.5 257.4 L172.0 257.3 L172.5 257.1 L173.0 257.0 L173.5 256.9 L174.0 256.9 L174.5 256.8 L175.0 256.8 L175.5 256.8 L176.0 256.7 L176.5 256.7 L177.0 256.8 L177.5 256.8 L178.0 256.8 L178.5 256.8 L179.0 256.8 L179.5 256.9 L180.0 256.9 L180.5 256.9 L181.0 256.9 L181.5 256.9 L182.0 257.0 L182.5 256.9 L183.0 256.9 L183.5 256.9 L184.0 256.9 L184.5 256.8 L185.0 256.8 L185.5 256.7 L186.0 256.7 L186.5 256.6 L187.0 256.5 L187.5 256.5 L188.0 256.4 L188.5 256.3 L189.0 256.3 L189.5 256.2 L190.0 256.2 L190.5 256.1 L191.0 256.1 L191.5 256.1 L192.0 256.0 L192.5 256.1 L193.0 256.1 L193.5 256.1 L194.0 256.2 L194.5 256.2 L195.0 256.3 L195.5 256.4 L196.0 256.5 L196.5 256.6 L197.0 256.8 L197.5 256.9 L198.0 257.0 L198.5 257.2 L199.0 257.4 L199.5 257.5 L200.0 257.7 L200.5 257.8 L201.0 258.0 L201.5 258.1 L202.0 258.3 L202.5 258.4 L203.0 258.6 L203.5 258.7 L204.0 258.8 L204.5 258.9 L205.0 259.0 L205.5 259.1 L206.0 259.2 L206.5 259.3 L207.0 259.4 L207.5 259.5 L208.0 259.6 L208.5 259.6 L209.0 259.7 L209.5 259.8 L210.0 259.9 L210.5 259.9 L211.0 260.0 L211.5 260.1 L212.0 260.2 L212.5 260.3 L213.0 260.4 L213.5 260.6 L214.0 260.7 L214.5 260.9 L215.0 261.0 L215.5 261.2 L216.0 261.4 L216.5 261.6 L217.0 261.8 L217.5 262.0 L218.0 262.2 L218.5 262.4 L219.0 262.6 L219.5 262.8 L220.0 263.0 L220.5 263.2 L221.0 263.5 L221.5 263.7 L222.0 263.9 L222.5 264.1 L223.0 264.2 L223.5 264.4 L224.0 264.6 L224.5 264.8 L225.0 264.9 L225.5 265.1 L226.0 265.2 L226.5 265.3 L227.0 265.4 L227.5 265.6 L228.0 265.7 L228.5 265.8 L229.0 265.9 L229.5 266.0 L230.0 266.1 L230.5 266.2 L231.0 266.3 L231.5 266.4 L232.0 266.5 L232.5 266.7 L233.0 266.8 L233.5 267.0 L234.0 267.1 L234.5 267.3 L235.0 267.5 L235.5 267.7 L236.0 267.9 L236.5 268.1 L237.0 268.3 L237.5 268.5 L238.0 268.8 L238.5 269.0 L239.0 269.2 L239.5 269.5 L240.0 269.7 L240.5 269.9 L241.0 270.2 L241.5 270.4 L242.0 270.6 L242.5 270.9 L243.0 271.1 L243.5 271.3 L244.0 271.5 L244.5 271.6 L245.0 271.8 L245.5 272.0 L246.0 272.1 L246.5 272.3 L247.0 272.4 L247.5 272.5 L248.0 272.7 L248.5 272.8 L249.0 272.9 L249.5 273.0 L250.0 273.1 L250.5 273.2 L251.0 273.3 L251.5 273.5 L252.0 273.6 L252.5 273.7 L253.0 273.8 L253.5 274.0 L254.0 274.1 L254.5 274.3 L255.0 274.5 L255.5 274.6 L256.0 274.8 L256.5 275.0 L257.0 275.2 L257.5 275.5 L258.0 275.7 L258.5 275.9 L259.0 276.1 L259.5 276.4 L260.0 276.6 L260.5 276.8 L261.0 277.1 L261.5 277.3 L262.0 277.5 L262.5 277.7 L263.0 277.9 L263.5 278.1 L264.0 278.3 L264.5 278.5 L265.0 278.7 L265.5 278.8 L266.0 279.0 L266.5 279.1 L267.0 279.2 L267.5 279.4 L268.0 279.5 L268.5 279.6 L269.0 279.7 L269.5 279.8 L270.0 279.9 L270.5 280.0 L271.0 280.1 L271.5 280.2 L272.0 280.3 L272.5 280.4 L273.0 280.5 L273.5 280.6 L274.0 280.8 L274.5 280.9 L275.0 281.1 L275.5 281.2 L276.0 281.4 L276.5 281.6 L277.0 281.8 L277.5 282.0 L278.0 282.2 L278.5 282.4 L279.0 282.6 L279.5 282.8 L280.0 283.0 L280.5 283.2 L281.0 283.4 L281.5 283.6 L282.0 283.8 L282.5 284.0 L283.0 284.1 L283.5 284.3 L284.0 284.4 L284.5 284.6 L285.0 284.7 L285.5 284.8 L286.0 284.9 L286.5 285.0 L287.0 285.0 L287.5 285.1 L288.0 285.2 L288.5 285.2 L289.0 285.3 L289.5 285.3 L290.0 285.3 L290.5 285.4 L291.0 285.4 L291.5 285.4 L292.0 285.5 L292.5 285.5 L293.0 285.6 L293.5 285.6 L294.0 285.7 L294.5 285.8 L295.0 285.9 L295.5 286.0 L296.0 286.1 L296.5 286.2 L297.0 286.4 L297.5 286.5 L298.0 286.7 L298.5 286.8 L299.0 287.0 L299.5 287.1 L300.0 287.3 L300.5 287.5 L301.0 287.6 L301.5 287.8 L302.0 288.0 L302.5 288.1 L303.0 288.2 L303.5 288.4 L304.0 288.5 L304.5 288.6 L305.0 288.7 L305.5 288.8 L306.0 288.8 L306.5 288.9 L307.0 288.9 L307.5 289.0 L308.0 289.0 L308.5 289.0 L309.0 289.0 L309.5 289.0 L310.0 289.0 L310.5 289.0 L311.0 289.0 L311.5 289.0 L312.0 289.0 L312.5 289.0 L313.0 289.0 L313.5 289.0 L314.0 289.1 L314.5 289.1 L315.0 289.1 L315.5 289.2 L316.0 289.3 L316.5 289.4 L317.0 289.5 L317.5 289.6 L318.0 289.7 L318.5 289.8 L319.0 290.0 L319.5 290.1 L320.0 290.2 L320.5 290.4 L321.0 290.5 L321.5 290.7 L322.0 290.8 L322.5 291.0 L323.0 291.1 L323.5 291.2 L324.0 291.3 L324.5 291.4 L325.0 291.5 L325.5 291.6 L326.0 291.6 L326.5 291.7 L327.0 291.7 L327.5 291.7 L328.0 291.8 L328.5 291.8 L329.0 291.8 L329.5 291.8 L330.0 291.7 L330.5 291.7 L331.0 291.7 L331.5 291.7 L332.0 291.7 L332.5 291.6 L333.0 291.6 L333.5 291.6 L334.0 291.6 L334.5 291.6 L335.0 291.7 L335.5 291.7 L336.0 291.7 L336.5 291.8 L337.0 291.8 L337.5 291.9 L338.0 292.0 L338.5 292.1 L339.0 292.2 L339.5 292.3 L340.0 292.4 L340.5 292.5 L341.0 292.6 L341.5 292.7 L342.0 292.8 L342.5 292.9 L343.0 293.0 L343.5 293.1 L344.0 293.2 L344.5 293.2 L345.0 293.3 L345.5 293.3 L346.0 293.4 L346.5 293.4 L347.0 293.4 L347.5 293.4 L348.0 293.4 L348.5 293.4 L349.0 293.3 L349.5 293.3 L350.0 293.2 L350.5 293.2 L351.0 293.1 L351.5 293.1 L352.0 293.0 L352.5 293.0 L353.0 292.9 L353.5 292.9 L354.0 292.9 L354.5 292.8 L355.0 292.8 L355.5 292.8 L356.0 292.8 L356.5 292.8 L357.0 292.8 L357.5 292.8 L358.0 292.9 L358.5 292.9 L359.0 293.0 L359.5 293.0 L360.0 293.1 L360.5 293.2 L361.0 293.2 L361.5 293.3 L362.0 293.4 L362.5 293.5 L363.0 293.5 L363.5 293.6 L364.0 293.6 L364.5 293.7 L365.0 293.7 L365.5 293.7 L366.0 293.7 L366.5 293.7 L367.0 293.7 L367.5 293.7 L368.0 293.7 L368.5 293.6 L369.0 293.6 L369.5 293.5 L370.0 293.5 L370.5 293.4 L371.0 293.3 L371.5 293.2 L372.0 293.2 L372.5 293.1 L373.0 293.0 L373.5 293.0 L374.0 292.9 L374.5 292.8 L375.0 292.8 L375.5 292.8 L376.0 292.7 L376.5 292.7 L377.0 292.7 L377.5 292.7 L378.0 292.7 L378.5 292.7 L379.0 292.8 L379.5 292.8 L380.0 292.8 L380.5 292.9 L381.0 292.9 L381.5 293.0 L382.0 293.0 L382.5 293.1 L383.0 293.1 L383.5 293.2 L384.0 293.2 L384.5 293.2 L385.0 293.2 L385.5 293.2 L386.0 293.2 L386.5 293.2 L387.0 293.2 L387.5 293.1 L388.0 293.1 L388.5 293.0 L389.0 292.9 L389.5 292.8 L390.0 292.7 L390.5 292.6 L391.0 292.5 L391.5 292.4 L392.0 292.3 L392.5 292.2 L393.0 292.1 L393.5 292.0 L394.0 291.9 L394.5 291.8 L395.0 291.7 L395.5 291.6 L396.0 291.5 L396.5 291.5 L397.0 291.4 L397.5 291.4 L398.0 291.3 L398.5 291.3 L399.0 291.3 L399.5 291.3 L400.0 291.3 L400.5 291.3 L401.0 291.3 L401.5 291.3 L402.0 291.3 L402.5 291.3 L403.0 291.4 L403.5 291.4 L404.0 291.4 L404.5 291.4 L405.0 291.4 L405.5 291.3 L406.0 291.3 L406.5 291.3 L407.0 291.2 L407.5 291.1 L408.0 291.1 L408.5 291.0 L409.0 290.9 L409.5 290.8 L410.0 290.6 L410.5 290.5 L411.0 290.4 L411.5 290.3 L412.0 290.1 L412.5 290.0 L413.0 289.9 L413.5 289.7 L414.0 289.6 L414.5 289.5 L415.0 289.4 L415.5 289.3 L416.0 289.2 L416.5 289.1 L417.0 289.0 L417.5 289.0 L418.0 288.9 L418.5 288.9 L419.0 288.8 L419.5 288.8 L420.0 288.8 L420.5 288.8 L421.0 288.8 L421.5 288.8 L422.0 288.8 L422.5 288.9 L423.0 288.9 L423.5 288.9 L424.0 288.9 L424.5 288.9 L425.0 288.9 L425.5 288.9 L426.0 288.9 L426.5 288.9 L427.0 288.8 L427.5 288.8 L428.0 288.7 L428.5 288.7 L429.0 288.6 L429.5 288.5 L430.0 288.4 L430.5 288.3 L431.0 288.2 L431.5 288.1 L432.0 288.0 L432.5 287.8 L433.0 287.7 L433.5 287.6 L434.0 287.5 L434.5 287.3 L435.0 287.2 L435.5 287.1 L436.0 287.0 L436.5 286.9 L437.0 286.8 L437.5 286.8 L438.0 286.7 L438.5 286.6 L439.0 286.6 L439.5 286.6 L440.0 286.5 L440.5 286.5 L441.0 286.5 L441.5 286.5 L442.0 286.5 L442.5 286.5 L443.0 286.5 L443.5 286.5 L444.0 286.5 L444.5 286.4 L445.0 286.4 L445.5 286.4 L446.0 286.4 L446.5 286.3 L447.0 286.3 L447.5 286.2 L448.0 286.1 L448.5 286.1 L449.0 286.0 L449.5 285.9 L450.0 285.8 L450.5 285.7 L451.0 285.5 L451.5 285.4 L452.0 285.3 L452.5 285.1 L453.0 285.0 L453.5 284.8 L454.0 284.7 L454.5 284.6 L455.0 284.4 L455.5 284.3 L456.0 284.2 L456.5 284.1 L457.0 284.0 L457.5 283.9 L458.0 283.8 L458.5 283.8 L459.0 283.7 L459.5 283.7 L460.0 283.6 L460.5 283.6 L461.0 283.6 L461.5 283.6 L462.0 283.6 L462.5 283.5 L463.0 283.5 L463.5 283.5 L464.0 283.5 L464.5 283.5 L465.0 283.5 L465.5 283.5 L466.0 283.4 L466.5 283.4 L467.0 283.4 L467.5 283.3 L468.0 283.2 L468.5 283.2 L469.0 283.1 L469.5 283.0 L470.0 282.9 L470.5 282.7 L471.0 282.6 L471.5 282.5 L472.0 282.3 L472.5 282.2 L473.0 282.1 L473.5 281.9 L474.0 281.8 L474.5 281.6 L475.0 281.5 L475.5 281.3 L476.0 281.2 L476.5 281.1 L477.0 281.0 L477.5 280.9 L478.0 280.8 L478.5 280.7 L479.0 280.7 L479.5 280.6 L480.0 280.6 L480.5 280.5 L481.0 280.5 L481.5 280.5 L482.0 280.5 L482.5 280.4 L483.0 280.4 L483.5 280.4 L484.0 280.4 L484.5 280.4 L485.0 280.4 L485.5 280.4 L486.0 280.4 L486.5 280.4 L487.0 280.3 L487.5 280.3 L488.0 280.2 L488.5 280.2 L489.0 280.1 L489.5 280.0 L490.0 279.9 L490.5 279.8 L491.0 279.7 L491.5 279.6 L492.0 279.5 L492.5 279.4 L493.0 279.2 L493.5 279.1 L494.0 278.9 L494.5 278.8 L495.0 278.7 L495.5 278.6 L496.0 278.4 L496.5 278.3 L497.0 278.2 L497.5 278.1 L498.0 278.0 L498.5 277.9 L499.0 277.9 L499.5 277.8 L500.0 277.8 L500.5 277.7 L501.0 277.7 L501.5 277.7 L502.0 277.7 L502.5 277.7 L503.0 277.7 L503.5 277.7 L504.0 277.7 L504.5 277.7 L505.0 277.7 L505.5 277.7 L506.0 277.7 L506.5 277.7 L507.0 277.6 L507.5 277.6 L508.0 277.6 L508.5 277.5 L509.0 277.5 L509.5 277.4 L510.0 277.3 L510.5 277.2 L511.0 277.1 L511.5 277.0 L512.0 276.9 L512.5 276.7 L513.0 276.6 L513.5 276.5 L514.0 276.3 L514.5 276.2 L515.0 276.1 L515.5 275.9 L516.0 275.8 L516.5 275.7 L517.0 275.6 L517.5 275.5 L518.0 275.4 L518.5 275.3 L519.0 275.2 L519.5 275.2 L520.0 275.1 L520.5 275.1 L521.0 275.0 L521.5 275.0 L522.0 275.0 L522.5 275.0 L523.0 275.0 L523.5 275.0 L524.0 275.0 L524.5 275.0 L525.0 275.0 L525.5 275.0 L526.0 275.0 L526.5 275.0 L527.0 274.9 L527.5 274.9 L528.0 274.9 L528.5 274.8 L529.0 274.8 L529.3 274.8" stroke="#08b420"/>
<path d="M63.2 158.0 L63.3 161.6 L63.4 165.1 L63.5 168.6 L63.6 172.0 L63.7 175.3 L63.8 178.5 L63.9 181.6 L64.0 184.5 L64.1 187.3 L64.2 190.0 L64.2 190.0 L64.3 192.7 L64.4 195.4 L64.5 198.3 L64.6 201.1 L64.7 204.0 L64.8 206.8 L64.9 209.6 L65.0 212.2 L65.1 214.6 L65.2 216.9 L65.3 218.9 L65.4 220.6 L65.5 222.0 L65.6 223.1 L65.7 223.8 L65.8 224.0 L65.8 224.0 L65.9 223.8 L66.0 223.3 L66.1 222.5 L66.2 221.4 L66.3 220.1 L66.4 218.6 L66.5 217.0 L66.6 215.2 L66.7 213.4 L66.8 211.5 L66.9 209.6 L67.0 207.7 L67.1 205.9 L67.2 204.2 L67.3 202.6 L67.4 201.2 L67.5 200.0 L67.5 200.0 L67.6 198.9 L67.7 197.7 L67.8 196.5 L67.9 195.2 L68.0 194.0 L68.1 192.8 L68.2 191.7 L68.3 190.6 L68.4 189.6 L68.5 188.7 L68.6 187.9 L68.7 187.3 L68.8 186.8 L68.9 186.5 L69.0 186.4 L69.0 186.4 L69.1 186.7 L69.2 187.4 L69.3 188.6 L69.4 190.1 L69.5 192.0 L69.6 194.2 L69.7 196.5 L69.8 199.1 L69.9 201.8 L70.0 204.5 L70.1 207.3 L70.2 210.0 L70.2 210.0 L70.3 212.8 L70.4 215.7 L70.5 219.1 L70.6 223.0 L70.7 227.6 L70.8 233.0 L70.8 233.0 L70.9 242.5 L71.0 252.0 L71.0 252.0 L71.1 257.6 L71.2 262.5 L71.3 266.7 L71.4 270.3 L71.5 273.4 L71.6 276.0 L71.6 276.0 L71.7 278.3 L71.8 280.4 L71.9 282.4 L72.0 284.3 L72.1 286.0 L72.2 287.6 L72.3 289.1 L72.4 290.6 L72.5 291.9 L72.6 293.2 L72.7 294.5 L72.8 295.8 L72.9 297.0 L73.0 298.3 L73.1 299.5 L73.2 300.8 L73.3 302.1 L73.4 303.5 L73.5 305.0 L73.5 305.0 L73.6 306.5 L73.7 308.0 L73.8 309.6 L73.9 311.1 L74.0 312.6 L74.1 314.1 L74.2 315.6 L74.3 317.1 L74.4 318.6 L74.5 320.0 L74.5 320.0 L74.6 321.5 L74.7 323.0 L74.8 324.7 L74.9 326.4 L75.0 328.2 L75.1 329.9 L75.2 331.6 L75.3 333.3 L75.4 334.9 L75.5 336.5 L75.6 337.9 L75.7 339.1 L75.8 340.2 L75.9 341.1 L76.0 341.7 L76.1 342.2 L76.2 342.3 L76.2 342.3 L76.3 342.3 L76.4 342.2 L76.5 342.1 L76.6 342.0 L76.7 341.8 L76.8 341.6 L76.9 341.3 L77.0 341.1 L77.1 340.8 L77.2 340.4 L77.3 340.1 L77.4 339.7 L77.5 339.3 L77.6 338.9 L77.7 338.5 L77.8 338.1 L77.9 337.7 L78.0 337.2 L78.1 336.8 L78.2 336.3 L78.3 335.9 L78.4 335.4 L78.5 335.0 L78.5 335.0 L78.6 334.5 L78.7 334.1 L78.8 333.5 L78.9 333.0 L79.0 332.4 L79.1 331.7 L79.2 331.1 L79.3 330.4 L79.4 329.7 L79.5 329.0 L79.6 328.3 L79.7 327.5 L79.8 326.7 L79.9 325.9 L80.0 325.1 L80.1 324.3 L80.2 323.4 L80.3 322.6 L80.4 321.8 L80.5 320.9 L80.6 320.0 L80.7 319.2 L80.8 318.3 L80.9 317.4 L81.0 316.6 L81.1 315.7 L81.2 314.9 L81.3 314.0 L81.4 313.2 L81.5 312.4 L81.6 311.6 L81.7 310.8 L81.7 310.8 L81.8 310.0 L81.9 309.2 L82.0 308.4 L82.1 307.6 L82.2 306.8 L82.3 306.0 L82.4 305.1 L82.5 304.3 L82.6 303.5 L82.7 302.6 L82.8 301.8 L82.9 300.9 L83.0 300.1 L83.1 299.2 L83.2 298.4 L83.3 297.5 L83.4 296.7 L83.5 295.8 L83.6 294.9 L83.7 294.1 L83.8 293.2 L83.9 292.4 L84.0 291.5 L84.1 290.7 L84.2 289.8 L84.3 289.0 L84.4 288.2 L84.5 287.3 L84.6 286.5 L84.7 285.7 L84.8 284.9 L84.9 284.0 L85.0 283.2 L85.1 282.4 L85.2 281.7 L85.3 280.9 L85.4 280.1 L85.5 279.3 L85.6 278.6 L85.7 277.9 L85.8 277.1 L85.9 276.4 L86.0 275.7 L86.1 275.0 L86.1 275.0 L86.2 274.3 L86.3 273.6 L86.4 272.8 L86.5 272.1 L86.6 271.3 L86.7 270.5 L86.8 269.7 L86.9 268.9 L87.0 268.1 L87.1 267.3 L87.2 266.5 L87.3 265.7 L87.4 264.9 L87.5 264.1 L87.6 263.3 L87.7 262.6 L87.8 261.8 L87.9 261.1 L88.0 260.4 L88.1 259.7 L88.2 259.1 L88.3 258.5 L88.4 257.9 L88.5 257.3 L88.6 256.8 L88.7 256.4 L88.8 256.0 L88.9 255.6 L89.0 255.3 L89.1 255.0 L89.2 254.8 L89.3 254.6 L89.4 254.5 L89.5 254.5 L89.5 254.5 L89.6 254.5 L89.7 254.6 L89.8 254.7 L89.9 254.8 L90.0 255.0 L90.1 255.2 L90.2 255.5 L90.3 255.8 L90.4 256.1 L90.5 256.4 L90.6 256.8 L90.7 257.2 L90.8 257.6 L90.9 258.1 L91.0 258.6 L91.1 259.1 L91.2 259.6 L91.3 260.1 L91.4 260.7 L91.5 261.2 L91.6 261.8 L91.7 262.4 L91.8 263.0 L91.9 263.6 L92.0 264.2 L92.1 264.8 L92.2 265.5 L92.3 266.1 L92.4 266.7 L92.5 267.4 L92.6 268.0 L92.7 268.6 L92.8 269.2 L92.9 269.8 L93.0 270.4 L93.1 271.0 L93.2 271.6 L93.3 272.2 L93.4 272.7 L93.5 273.3 L93.6 273.8 L93.7 274.3 L93.8 274.8 L93.9 275.3 L94.0 275.7 L94.1 276.1 L94.2 276.5 L94.2 276.5 L94.3 276.9 L94.4 277.3 L94.5 277.6 L94.6 278.0 L94.7 278.4 L94.8 278.8 L94.9 279.2 L95.0 279.6 L95.1 280.0 L95.2 280.4 L95.3 280.8 L95.4 281.2 L95.5 281.7 L95.6 282.1 L95.7 282.5 L95.8 282.9 L95.9 283.3 L96.0 283.7 L96.1 284.1 L96.2 284.5 L96.3 285.0 L96.4 285.4 L96.5 285.8 L96.6 286.2 L96.7 286.6 L96.8 287.0 L96.9 287.4 L97.0 287.8 L97.1 288.2 L97.2 288.5 L97.3 288.9 L97.4 289.3 L97.5 289.7 L97.6 290.0 L97.7 290.4 L97.8 290.8 L97.9 291.1 L98.0 291.5 L98.1 291.8 L98.2 292.1 L98.3 292.5 L98.4 292.8 L98.5 293.1 L98.6 293.4 L98.7 293.7 L98.8 294.0 L98.9 294.2 L99.0 294.5 L99.1 294.8 L99.2 295.0 L99.3 295.3 L99.4 295.5 L99.5 295.7 L99.6 295.9 L99.7 296.1 L99.8 296.3 L99.9 296.5 L100.0 296.6 L100.5 297.2 L101.0 297.5 L101.1 297.5 L101.5 297.4 L102.0 296.8 L102.5 296.0 L103.0 294.8 L103.5 293.3 L104.0 291.6 L104.5 289.8 L105.0 287.9 L105.5 285.8 L106.0 283.8 L106.5 281.7 L107.0 279.8 L107.5 277.9 L108.0 276.2 L108.5 274.7 L109.0 273.5 L109.5 272.5 L110.0 271.9 L110.5 271.7 L111.0 271.8 L111.5 272.0 L112.0 272.4 L112.5 272.8 L113.0 273.4 L113.5 274.0 L114.0 274.8 L114.5 275.5 L115.0 276.3 L115.5 277.1 L116.0 278.0 L116.5 278.8 L117.0 279.5 L117.5 280.3 L118.0 281.0 L118.5 281.6 L119.0 282.1 L119.5 282.5 L120.0 282.7 L120.5 282.9 L120.7 282.9 L121.0 282.9 L121.5 282.7 L122.0 282.4 L122.5 282.0 L123.0 281.5 L123.5 280.9 L124.0 280.2 L124.5 279.4 L125.0 278.6 L125.5 277.7 L126.0 276.8 L126.5 275.9 L127.0 275.0 L127.5 274.1 L128.0 273.3 L128.5 272.5 L129.0 271.7 L129.5 271.0 L130.0 270.3 L130.5 269.8 L131.0 269.4 L131.5 269.0 L132.0 268.8 L132.4 268.8 L132.5 268.8 L133.0 268.8 L133.5 268.9 L134.0 269.0 L134.5 269.2 L135.0 269.3 L135.5 269.5 L136.0 269.7 L136.5 269.9 L137.0 270.2 L137.5 270.4 L138.0 270.6 L138.5 270.8 L139.0 270.9 L139.5 271.1 L140.0 271.2 L140.5 271.3 L141.0 271.3 L141.1 271.3 L141.5 271.3 L142.0 271.2 L142.5 271.1 L143.0 270.9 L143.5 270.7 L144.0 270.4 L144.5 270.1 L145.0 269.7 L145.5 269.4 L146.0 269.0 L146.5 268.5 L147.0 268.1 L147.5 267.7 L148.0 267.2 L148.5 266.7 L149.0 266.3 L149.5 265.8 L150.0 265.4 L150.5 264.9 L151.0 264.5 L151.5 264.1 L152.0 263.7 L152.5 263.4 L153.0 263.0 L153.5 262.8 L154.0 262.5 L154.5 262.3 L155.0 262.2 L155.5 262.1 L156.0 262.1 L156.5 262.1 L157.0 262.2 L157.5 262.2 L158.0 262.2 L158.5 262.2 L159.0 262.2 L159.5 262.2 L160.0 262.1 L160.5 262.0 L161.0 261.9 L161.5 261.7 L162.0 261.6 L162.5 261.4 L163.0 261.1 L163.5 260.9 L164.0 260.6 L164.5 260.3 L165.0 260.0 L165.5 259.7 L166.0 259.4 L166.5 259.1 L167.0 258.8 L167.5 258.5 L168.0 258.2 L168.5 257.9 L169.0 257.6 L169.5 257.4 L170.0 257.2 L170.5 257.0 L171.0 256.9 L171.5 256.8 L172.0 256.7 L172.5 256.7 L173.0 256.6 L173.5 256.6 L174.0 256.7 L174.5 256.7 L175.0 256.8 L175.5 256.9 L176.0 257.0 L176.5 257.1 L177.0 257.2 L177.5 257.3 L178.0 257.3 L178.5 257.4 L179.0 257.5 L179.5 257.6 L180.0 257.6 L180.5 257.6 L181.0 257.6 L181.5 257.6 L182.0 257.5 L182.5 257.4 L183.0 257.4 L183.5 257.2 L184.0 257.1 L184.5 257.0 L185.0 256.8 L185.5 256.7 L186.0 256.5 L186.5 256.3 L187.0 256.2 L187.5 256.0 L188.0 255.9 L188.5 255.7 L189.0 255.6 L189.5 255.5 L190.0 255.5 L190.5 255.4 L191.0 255.4 L191.5 255.4 L192.0 255.5 L192.5 255.5 L193.0 255.6 L193.5 255.7 L194.0 255.9 L194.5 256.1 L195.0 256.2 L195.5 256.4 L196.0 256.7 L196.5 256.9 L197.0 257.1 L197.5 257.3 L198.0 257.5 L198.5 257.8 L199.0 258.0 L199.5 258.2 L200.0 258.3 L200.5 258.5 L201.0 258.7 L201.5 258.8 L202.0 258.9 L202.5 259.0 L203.0 259.0 L203.5 259.1 L204.0 259.1 L204.5 259.1 L205.0 259.2 L205.5 259.1 L206.0 259.1 L206.5 259.1 L207.0 259.1 L207.5 259.1 L208.0 259.1 L208.5 259.1 L209.0 259.1 L209.5 259.1 L210.0 259.2 L210.5 259.3 L211.0 259.3 L211.5 259.5 L212.0 259.6 L212.5 259.8 L213.0 259.9 L213.5 260.2 L214.0 260.4 L214.5 260.6 L215.0 260.9 L215.5 261.2 L216.0 261.4 L216.5 261.7 L217.0 262.0 L217.5 262.3 L218.0 262.6 L218.5 262.9 L219.0 263.2 L219.5 263.4 L220.0 263.7 L220.5 263.9 L221.0 264.1 L221.5 264.3 L222.0 264.5 L222.5 264.6 L223.0 264.8 L223.5 264.9 L224.0 265.0 L224.5 265.0 L225.0 265.1 L225.5 265.1 L226.0 265.2 L226.5 265.2 L227.0 265.2 L227.5 265.2 L228.0 265.2 L228.5 265.3 L229.0 265.3 L229.5 265.4 L230.0 265.4 L230.5 265.5 L231.0 265.6 L231.5 265.8 L232.0 265.9 L232.5 266.1 L233.0 266.3 L233.5 266.5 L234.0 266.7 L234.5 267.0 L235.0 267.3 L235.5 267.6 L236.0 267.9 L236.5 268.2 L237.0 268.5 L237.5 268.8 L238.0 269.1 L238.5 269.5 L239.0 269.8 L239.5 270.1 L240.0 270.3 L240.5 270.6 L241.0 270.9 L241.5 271.1 L242.0 271.3 L242.5 271.5 L243.0 271.6 L243.5 271.8 L244.0 271.9 L244.5 272.0 L245.0 272.1 L245.5 272.1 L246.0 272.2 L246.5 272.2 L247.0 272.3 L247.5 272.3 L248.0 272.3 L248.5 272.3 L249.0 272.4 L249.5 272.4 L250.0 272.5 L250.5 272.6 L251.0 272.7 L251.5 272.8 L252.0 272.9 L252.5 273.1 L253.0 273.3 L253.5 273.5 L254.0 273.7 L254.5 273.9 L255.0 274.2 L255.5 274.5 L256.0 274.8 L256.5 275.1 L257.0 275.4 L257.5 275.7 L258.0 276.0 L258.5 276.3 L259.0 276.6 L259.5 276.9 L260.0 277.2 L260.5 277.5 L261.0 277.7 L261.5 278.0 L262.0 278.2 L262.5 278.4 L263.0 278.5 L263.5 278.7 L264.0 278.8 L264.5 278.9 L265.0 279.0 L265.5 279.0 L266.0 279.1 L266.5 279.1 L267.0 279.1 L267.5 279.2 L268.0 279.2 L268.5 279.2 L269.0 279.2 L269.5 279.2 L270.0 279.3 L270.5 279.3 L271.0 279.4 L271.5 279.5 L272.0 279.6 L272.5 279.7 L273.0 279.9 L273.5 280.1 L274.0 280.3 L274.5 280.5 L275.0 280.7 L275.5 281.0 L276.0 281.2 L276.5 281.5 L277.0 281.8 L277.5 282.1 L278.0 282.4 L278.5 282.7 L279.0 283.0 L279.5 283.3 L280.0 283.6 L280.5 283.8 L281.0 284.1 L281.5 284.3 L282.0 284.5 L282.5 284.6 L283.0 284.8 L283.5 284.9 L284.0 285.0 L284.5 285.0 L285.0 285.1 L285.5 285.1 L286.0 285.1 L286.5 285.1 L287.0 285.0 L287.5 285.0 L288.0 284.9 L288.5 284.9 L289.0 284.8 L289.5 284.8 L290.0 284.8 L290.5 284.8 L291.0 284.7 L291.5 284.8 L292.0 284.8 L292.5 284.8 L293.0 284.9 L293.5 285.0 L294.0 285.1 L294.5 285.3 L295.0 285.5 L295.5 285.7 L296.0 285.9 L296.5 286.1 L297.0 286.3 L297.5 286.6 L298.0 286.8 L298.5 287.1 L299.0 287.4 L299.5 287.6 L300.0 287.8 L300.5 288.1 L301.0 288.3 L301.5 288.5 L302.0 288.6 L302.5 288.8 L303.0 288.9 L303.5 289.0 L304.0 289.1 L304.5 289.1 L305.0 289.1 L305.5 289.1 L306.0 289.1 L306.5 289.0 L307.0 289.0 L307.5 288.9 L308.0 288.8 L308.5 288.7 L309.0 288.6 L309.5 288.6 L310.0 288.5 L310.5 288.4 L311.0 288.4 L311.5 288.3 L312.0 288.3 L312.5 288.3 L313.0 288.3 L313.5 288.4 L314.0 288.5 L314.5 288.6 L315.0 288.7 L315.5 288.8 L316.0 289.0 L316.5 289.2 L317.0 289.4 L317.5 289.6 L318.0 289.8 L318.5 290.1 L319.0 290.3 L319.5 290.5 L320.0 290.7 L320.5 290.9 L321.0 291.1 L321.5 291.3 L322.0 291.5 L322.5 291.6 L323.0 291.8 L323.5 291.9 L324.0 291.9 L324.5 292.0 L325.0 292.0 L325.5 292.0 L326.0 291.9 L326.5 291.9 L327.0 291.8 L327.5 291.8 L328.0 291.7 L328.5 291.6 L329.0 291.5 L329.5 291.4 L330.0 291.3 L330.5 291.2 L331.0 291.1 L331.5 291.0 L332.0 291.0 L332.5 291.0 L333.0 291.0 L333.5 291.0 L334.0 291.0 L334.5 291.1 L335.0 291.1 L335.5 291.3 L336.0 291.4 L336.5 291.5 L337.0 291.7 L337.5 291.9 L338.0 292.0 L338.5 292.2 L339.0 292.4 L339.5 292.6 L340.0 292.8 L340.5 293.0 L341.0 293.2 L341.5 293.3 L342.0 293.5 L342.5 293.6 L343.0 293.7 L343.5 293.8 L344.0 293.8 L344.5 293.8 L345.0 293.8 L345.5 293.8 L346.0 293.7 L346.5 293.7 L347.0 293.6 L347.5 293.5 L348.0 293.4 L348.5 293.2 L349.0 293.1 L349.5 293.0 L350.0 292.8 L350.5 292.7 L351.0 292.6 L351.5 292.5 L352.0 292.4 L352.5 292.3 L353.0 292.3 L353.5 292.2 L354.0 292.2 L354.5 292.2 L355.0 292.2 L355.5 292.3 L356.0 292.4 L356.5 292.5 L357.0 292.6 L357.5 292.7 L358.0 292.9 L358.5 293.0 L359.0 293.2 L359.5 293.3 L360.0 293.5 L360.5 293.6 L361.0 293.8 L361.5 293.9 L362.0 294.0 L362.5 294.1 L363.0 294.2 L363.5 294.3 L364.0 294.3 L364.5 294.3 L365.0 294.3 L365.5 294.2 L366.0 294.2 L366.5 294.1 L367.0 294.0 L367.5 293.9 L368.0 293.7 L368.5 293.6 L369.0 293.4 L369.5 293.3 L370.0 293.1 L370.5 293.0 L371.0 292.8 L371.5 292.7 L372.0 292.5 L372.5 292.4 L373.0 292.3 L373.5 292.3 L374.0 292.2 L374.5 292.2 L375.0 292.2 L375.5 292.2 L376.0 292.2 L376.5 292.3 L377.0 292.4 L377.5 292.5 L378.0 292.6 L378.5 292.7 L379.0 292.9 L379.5 293.0 L380.0 293.1 L380.5 293.3 L381.0 293.4 L381.5 293.5 L382.0 293.6 L382.5 293.7 L383.0 293.8 L383.5 293.8 L384.0 293.9 L384.5 293.9 L385.0 293.8 L385.5 293.8 L386.0 293.7 L386.5 293.6 L387.0 293.5 L387.5 293.4 L388.0 293.2 L388.5 293.0 L389.0 292.8 L389.5 292.7 L390.0 292.5 L390.5 292.3 L391.0 292.1 L391.5 291.9 L392.0 291.7 L392.5 291.6 L393.0 291.4 L393.5 291.3 L394.0 291.2 L394.5 291.1 L395.0 291.1 L395.5 291.0 L396.0 291.0 L396.5 291.0 L397.0 291.0 L397.5 291.1 L398.0 291.2 L398.5 291.2 L399.0 291.3 L399.5 291.4 L400.0 291.5 L400.5 291.6 L401.0 291.7 L401.5 291.8 L402.0 291.9 L402.5 292.0 L403.0 292.0 L403.5 292.0 L404.0 292.1 L404.5 292.0 L405.0 292.0 L405.5 291.9 L406.0 291.8 L406.5 291.7 L407.0 291.6 L407.5 291.4 L408.0 291.3 L408.5 291.1 L409.0 290.9 L409.5 290.7 L410.0 290.4 L410.5 290.2 L411.0 290.0 L411.5 289.8 L412.0 289.6 L412.5 289.4 L413.0 289.2 L413.5 289.0 L414.0 288.9 L414.5 288.8 L415.0 288.7 L415.5 288.6 L416.0 288.6 L416.5 288.6 L417.0 288.6 L417.5 288.6 L418.0 288.7 L418.5 288.7 L419.0 288.8 L419.5 288.9 L420.0 289.0 L420.5 289.1 L421.0 289.2 L421.5 289.3 L422.0 289.4 L422.5 289.5 L423.0 289.5 L423.5 289.6 L424.0 289.6 L424.5 289.6 L425.0 289.6 L425.5 289.6 L426.0 289.5 L426.5 289.4 L427.0 289.3 L427.5 289.2 L428.0 289.0 L428.5 288.8 L429.0 288.7 L429.5 288.5 L430.0 288.3 L430.5 288.1 L431.0 287.9 L431.5 287.7 L432.0 287.5 L432.5 287.3 L433.0 287.1 L433.5 286.9 L434.0 286.8 L434.5 286.7 L435.0 286.5 L435.5 286.5 L436.0 286.4 L436.5 286.4 L437.0 286.4 L437.5 286.4 L438.0 286.4 L438.5 286.4 L439.0 286.5 L439.5 286.5 L440.0 286.6 L440.5 286.7 L441.0 286.8 L441.5 286.9 L442.0 286.9 L442.5 287.0 L443.0 287.1 L443.5 287.1 L444.0 287.1 L444.5 287.1 L445.0 287.1 L445.5 287.1 L446.0 287.0 L446.5 286.9 L447.0 286.8 L447.5 286.6 L448.0 286.5 L448.5 286.3 L449.0 286.1 L449.5 285.9 L450.0 285.7 L450.5 285.5 L451.0 285.3 L451.5 285.0 L452.0 284.8 L452.5 284.6 L453.0 284.4 L453.5 284.2 L454.0 284.0 L454.5 283.9 L455.0 283.8 L455.5 283.7 L456.0 283.6 L456.5 283.5 L457.0 283.5 L457.5 283.5 L458.0 283.5 L458.5 283.5 L459.0 283.5 L459.5 283.6 L460.0 283.7 L460.5 283.7 L461.0 283.8 L461.5 283.9 L462.0 284.0 L462.5 284.0 L463.0 284.1 L463.5 284.2 L464.0 284.2 L464.5 284.2 L465.0 284.2 L465.5 284.2 L466.0 284.1 L466.5 284.0 L467.0 283.9 L467.5 283.8 L468.0 283.6 L468.5 283.5 L469.0 283.3 L469.5 283.1 L470.0 282.9 L470.5 282.7 L471.0 282.4 L471.5 282.2 L472.0 282.0 L472.5 281.7 L473.0 281.5 L473.5 281.3 L474.0 281.1 L474.5 281.0 L475.0 280.8 L475.5 280.7 L476.0 280.6 L476.5 280.5 L477.0 280.4 L477.5 280.4 L478.0 280.4 L478.5 280.4 L479.0 280.4 L479.5 280.4 L480.0 280.5 L480.5 280.6 L481.0 280.7 L481.5 280.7 L482.0 280.8 L482.5 280.9 L483.0 281.0 L483.5 281.0 L484.0 281.1 L484.5 281.1 L485.0 281.1 L485.5 281.1 L486.0 281.1 L486.5 281.0 L487.0 280.9 L487.5 280.8 L488.0 280.7 L488.5 280.6 L489.0 280.4 L489.5 280.2 L490.0 280.0 L490.5 279.8 L491.0 279.6 L491.5 279.4 L492.0 279.2 L492.5 278.9 L493.0 278.7 L493.5 278.5 L494.0 278.3 L494.5 278.2 L495.0 278.0 L495.5 277.9 L496.0 277.8 L496.5 277.7 L497.0 277.6 L497.5 277.6 L498.0 277.5 L498.5 277.5 L499.0 277.6 L499.5 277.6 L500.0 277.7 L500.5 277.7 L501.0 277.8 L501.5 277.9 L502.0 278.0 L502.5 278.1 L503.0 278.2 L503.5 278.2 L504.0 278.3 L504.5 278.3 L505.0 278.4 L505.5 278.4 L506.0 278.4 L506.5 278.3 L507.0 278.3 L507.5 278.2 L508.0 278.1 L508.5 278.0 L509.0 277.8 L509.5 277.6 L510.0 277.5 L510.5 277.3 L511.0 277.0 L511.5 276.8 L512.0 276.6 L512.5 276.4 L513.0 276.2 L513.5 276.0 L514.0 275.8 L514.5 275.6 L515.0 275.4 L515.5 275.3 L516.0 275.1 L516.5 275.0 L517.0 274.9 L517.5 274.9 L518.0 274.8 L518.5 274.8 L519.0 274.8 L519.5 274.9 L520.0 274.9 L520.5 275.0 L521.0 275.0 L521.5 275.1 L522.0 275.2 L522.5 275.3 L523.0 275.4 L523.5 275.5 L524.0 275.5 L524.5 275.6 L525.0 275.6 L525.5 275.7 L526.0 275.7 L526.5 275.6 L527.0 275.6 L527.5 275.5 L528.0 275.4 L528.5 275.3 L529.0 275.2 L529.3 275.1" stroke="#ff5014"/>
<path d="M63.2 271.0 L63.3 266.7 L63.4 262.3 L63.5 258.0 L63.6 253.6 L63.7 249.2 L63.8 244.8 L63.9 240.4 L64.0 236.0 L64.0 236.0 L64.1 231.6 L64.2 227.3 L64.3 223.0 L64.4 218.6 L64.5 214.2 L64.6 209.6 L64.7 204.9 L64.8 200.0 L64.8 200.0 L64.9 194.3 L65.0 187.5 L65.1 180.1 L65.2 172.3 L65.3 164.7 L65.4 157.6 L65.5 151.4 L65.6 146.4 L65.7 143.2 L65.8 142.0 L65.8 142.0 L65.9 142.6 L66.0 144.3 L66.1 147.0 L66.2 150.5 L66.3 154.6 L66.4 159.3 L66.5 164.3 L66.6 169.5 L66.7 174.8 L66.8 180.0 L66.8 180.0 L66.9 186.4 L67.0 194.5 L67.1 202.9 L67.2 210.2 L67.3 215.0 L67.3 215.0 L67.4 217.7 L67.5 220.0 L67.6 221.9 L67.7 223.5 L67.8 225.0 L67.9 226.4 L68.0 228.0 L68.0 228.0 L68.1 229.6 L68.2 231.2 L68.3 232.8 L68.4 234.3 L68.5 235.8 L68.6 237.2 L68.7 238.6 L68.8 240.0 L68.8 240.0 L68.9 241.5 L69.0 243.2 L69.1 244.8 L69.2 246.2 L69.3 247.1 L69.4 247.5 L69.4 247.5 L69.5 247.3 L69.6 246.8 L69.7 246.0 L69.8 245.1 L69.9 244.0 L70.0 243.0 L70.1 241.9 L70.2 241.0 L70.2 241.0 L70.3 240.1 L70.4 239.0 L70.5 237.9 L70.6 236.8 L70.7 235.8 L70.8 235.0 L70.9 234.4 L71.0 234.2 L71.0 234.2 L71.1 234.4 L71.2 235.0 L71.3 235.9 L71.4 237.1 L71.5 238.5 L71.6 239.9 L71.7 241.5 L71.8 243.0 L71.8 243.0 L71.9 244.6 L72.0 246.4 L72.1 248.6 L72.2 251.1 L72.3 254.0 L72.3 254.0 L72.4 258.7 L72.5 265.1 L72.6 271.5 L72.7 276.0 L72.7 276.0 L72.8 278.9 L72.9 281.7 L73.0 284.5 L73.1 287.1 L73.2 289.7 L73.3 292.2 L73.4 294.5 L73.5 296.8 L73.6 299.0 L73.7 301.0 L73.8 302.9 L73.9 304.7 L74.0 306.3 L74.1 307.9 L74.2 309.3 L74.3 310.5 L74.4 311.6 L74.5 312.5 L74.6 313.3 L74.7 313.9 L74.8 314.3 L74.9 314.6 L75.0 314.7 L75.0 314.7 L75.1 314.7 L75.2 314.6 L75.3 314.6 L75.4 314.5 L75.5 314.4 L75.6 314.2 L75.7 314.1 L75.8 314.0 L75.9 313.8 L76.0 313.7 L76.1 313.6 L76.2 313.6 L76.3 313.5 L76.4 313.5 L76.4 313.5 L76.5 313.6 L76.6 313.9 L76.7 314.3 L76.8 315.0 L76.9 315.7 L77.0 316.6 L77.1 317.5 L77.2 318.6 L77.3 319.7 L77.4 320.9 L77.5 322.1 L77.6 323.3 L77.7 324.5 L77.8 325.7 L77.9 326.9 L78.0 328.0 L78.1 329.1 L78.2 330.0 L78.3 330.9 L78.4 331.6 L78.5 332.3 L78.6 332.7 L78.7 333.0 L78.8 333.1 L78.8 333.1 L78.9 333.0 L79.0 332.6 L79.1 332.1 L79.2 331.3 L79.3 330.4 L79.4 329.4 L79.5 328.2 L79.6 326.9 L79.7 325.6 L79.8 324.2 L79.9 322.7 L80.0 321.2 L80.1 319.7 L80.2 318.3 L80.3 316.8 L80.4 315.5 L80.5 314.2 L80.6 313.0 L80.7 311.9 L80.8 311.0 L80.8 311.0 L80.9 310.2 L81.0 309.3 L81.1 308.5 L81.2 307.7 L81.3 306.9 L81.4 306.1 L81.5 305.4 L81.6 304.6 L81.7 303.8 L81.8 303.1 L81.9 302.4 L82.0 301.6 L82.1 300.9 L82.2 300.2 L82.3 299.5 L82.4 298.8 L82.5 298.1 L82.6 297.5 L82.7 296.8 L82.8 296.1 L82.9 295.5 L83.0 294.8 L83.1 294.2 L83.2 293.6 L83.3 292.9 L83.4 292.3 L83.5 291.7 L83.6 291.1 L83.7 290.5 L83.8 289.9 L83.9 289.3 L84.0 288.7 L84.1 288.1 L84.2 287.5 L84.3 287.0 L84.4 286.4 L84.5 285.8 L84.6 285.2 L84.7 284.7 L84.8 284.1 L84.9 283.6 L85.0 283.0 L85.1 282.5 L85.2 281.9 L85.3 281.4 L85.4 280.8 L85.5 280.3 L85.6 279.7 L85.7 279.2 L85.8 278.6 L85.9 278.1 L86.0 277.5 L86.1 277.0 L86.1 277.0 L86.2 276.4 L86.3 275.9 L86.4 275.3 L86.5 274.7 L86.6 274.1 L86.7 273.4 L86.8 272.8 L86.9 272.1 L87.0 271.5 L87.1 270.9 L87.2 270.2 L87.3 269.6 L87.4 268.9 L87.5 268.3 L87.6 267.7 L87.7 267.1 L87.8 266.5 L87.9 266.0 L88.0 265.5 L88.1 264.9 L88.2 264.5 L88.3 264.0 L88.4 263.6 L88.5 263.2 L88.6 262.8 L88.7 262.5 L88.8 262.3 L88.9 262.0 L89.0 261.8 L89.1 261.7 L89.2 261.6 L89.3 261.6 L89.3 261.6 L89.4 261.6 L89.5 261.6 L89.6 261.7 L89.7 261.7 L89.8 261.8 L89.9 261.9 L90.0 262.0 L90.1 262.1 L90.2 262.2 L90.3 262.4 L90.4 262.5 L90.5 262.7 L90.6 262.9 L90.7 263.1 L90.8 263.3 L90.9 263.5 L91.0 263.7 L91.1 264.0 L91.2 264.2 L91.3 264.5 L91.4 264.8 L91.5 265.0 L91.6 265.3 L91.7 265.6 L91.8 266.0 L91.9 266.3 L92.0 266.6 L92.1 267.0 L92.2 267.3 L92.3 267.7 L92.4 268.0 L92.5 268.4 L92.6 268.8 L92.7 269.1 L92.8 269.5 L92.9 269.9 L93.0 270.3 L93.1 270.7 L93.2 271.2 L93.3 271.6 L93.4 272.0 L93.5 272.4 L93.6 272.9 L93.7 273.3 L93.8 273.7 L93.9 274.2 L94.0 274.6 L94.1 275.1 L94.2 275.5 L94.3 276.0 L94.4 276.4 L94.5 276.9 L94.6 277.3 L94.7 277.8 L94.8 278.2 L94.9 278.7 L95.0 279.1 L95.1 279.6 L95.2 280.0 L95.3 280.5 L95.4 280.9 L95.5 281.4 L95.6 281.8 L95.7 282.3 L95.8 282.7 L95.9 283.2 L96.0 283.6 L96.1 284.0 L96.2 284.5 L96.3 284.9 L96.4 285.3 L96.5 285.7 L96.6 286.2 L96.7 286.6 L96.8 287.0 L96.9 287.4 L97.0 287.8 L97.1 288.1 L97.2 288.5 L97.3 288.9 L97.4 289.2 L97.5 289.6 L97.6 289.9 L97.7 290.3 L97.8 290.6 L97.9 290.9 L98.0 291.3 L98.1 291.6 L98.2 291.9 L98.3 292.1 L98.4 292.4 L98.5 292.7 L98.6 292.9 L98.7 293.2 L98.8 293.4 L98.9 293.6 L99.0 293.8 L99.1 294.0 L99.2 294.2 L99.3 294.4 L99.4 294.5 L99.5 294.7 L99.6 294.8 L99.7 294.9 L99.8 295.0 L99.9 295.1 L100.0 295.2 L100.4 295.3 L100.5 295.3 L101.0 295.1 L101.5 294.6 L102.0 293.8 L102.5 292.9 L103.0 291.7 L103.5 290.4 L104.0 289.0 L104.5 287.4 L105.0 285.9 L105.5 284.2 L106.0 282.6 L106.5 281.0 L107.0 279.5 L107.5 278.1 L108.0 276.8 L108.5 275.7 L109.0 274.8 L109.5 274.1 L110.0 273.7 L110.5 273.5 L111.0 273.6 L111.5 273.7 L112.0 274.0 L112.5 274.4 L113.0 274.8 L113.5 275.3 L114.0 275.9 L114.5 276.5 L115.0 277.1 L115.5 277.8 L116.0 278.4 L116.5 279.0 L117.0 279.6 L117.5 280.2 L118.0 280.7 L118.5 281.1 L119.0 281.4 L119.5 281.7 L120.0 281.9 L120.4 281.9 L120.5 281.9 L121.0 281.8 L121.5 281.6 L122.0 281.3 L122.5 280.9 L123.0 280.4 L123.5 279.8 L124.0 279.2 L124.5 278.5 L125.0 277.8 L125.5 277.0 L126.0 276.2 L126.5 275.4 L127.0 274.7 L127.5 273.9 L128.0 273.1 L128.5 272.4 L129.0 271.8 L129.5 271.2 L130.0 270.6 L130.5 270.1 L131.0 269.8 L131.5 269.5 L132.0 269.3 L132.4 269.3 L132.5 269.3 L133.0 269.3 L133.5 269.4 L134.0 269.5 L134.5 269.5 L135.0 269.7 L135.5 269.8 L136.0 269.9 L136.5 270.1 L137.0 270.2 L137.5 270.4 L138.0 270.5 L138.5 270.6 L139.0 270.8 L139.5 270.8 L140.0 270.9 L140.5 271.0 L141.0 271.0 L141.1 271.0 L141.5 271.0 L142.0 270.9 L142.5 270.8 L143.0 270.6 L143.5 270.4 L144.0 270.1 L144.5 269.8 L145.0 269.5 L145.5 269.1 L146.0 268.7 L146.5 268.3 L147.0 267.9 L147.5 267.4 L148.0 267.0 L148.5 266.5 L149.0 266.1 L149.5 265.6 L150.0 265.2 L150.5 264.7 L151.0 264.3 L151.5 263.9 L152.0 263.6 L152.5 263.2 L153.0 262.9 L153.5 262.6 L154.0 262.4 L154.5 262.2 L155.0 262.1 L155.5 262.0 L156.0 262.0 L156.5 262.0 L157.0 262.0 L157.5 262.0 L158.0 262.0 L158.5 261.9 L159.0 261.9 L159.5 261.9 L160.0 261.8 L160.5 261.7 L161.0 261.6 L161.5 261.5 L162.0 261.3 L162.5 261.1 L163.0 260.9 L163.5 260.7 L164.0 260.5 L164.5 260.3 L165.0 260.0 L165.5 259.7 L166.0 259.5 L166.5 259.2 L167.0 258.9 L167.5 258.7 L168.0 258.4 L168.5 258.2 L169.0 258.0 L169.5 257.7 L170.0 257.5 L170.5 257.4 L171.0 257.2 L171.5 257.1 L172.0 257.0 L172.5 256.9 L173.0 256.8 L173.5 256.8 L174.0 256.8 L174.5 256.8 L175.0 256.8 L175.5 256.8 L176.0 256.9 L176.5 256.9 L177.0 257.0 L177.5 257.0 L178.0 257.1 L178.5 257.1 L179.0 257.2 L179.5 257.2 L180.0 257.3 L180.5 257.3 L181.0 257.3 L181.5 257.3 L182.0 257.2 L182.5 257.2 L183.0 257.1 L183.5 257.1 L184.0 257.0 L184.5 256.9 L185.0 256.8 L185.5 256.7 L186.0 256.6 L186.5 256.4 L187.0 256.3 L187.5 256.2 L188.0 256.1 L188.5 256.0 L189.0 255.9 L189.5 255.8 L190.0 255.8 L190.5 255.8 L191.0 255.7 L191.5 255.7 L192.0 255.7 L192.5 255.8 L193.0 255.9 L193.5 255.9 L194.0 256.0 L194.5 256.2 L195.0 256.3 L195.5 256.4 L196.0 256.6 L196.5 256.8 L197.0 257.0 L197.5 257.1 L198.0 257.3 L198.5 257.5 L199.0 257.7 L199.5 257.9 L200.0 258.0 L200.5 258.2 L201.0 258.3 L201.5 258.5 L202.0 258.6 L202.5 258.7 L203.0 258.8 L203.5 258.9 L204.0 259.0 L204.5 259.0 L205.0 259.1 L205.5 259.1 L206.0 259.2 L206.5 259.2 L207.0 259.2 L207.5 259.3 L208.0 259.3 L208.5 259.3 L209.0 259.4 L209.5 259.4 L210.0 259.5 L210.5 259.6 L211.0 259.7 L211.5 259.8 L212.0 259.9 L212.5 260.0 L213.0 260.2 L213.5 260.4 L214.0 260.6 L214.5 260.8 L215.0 261.0 L215.5 261.2 L216.0 261.4 L216.5 261.7 L217.0 261.9 L217.5 262.2 L218.0 262.4 L218.5 262.7 L219.0 262.9 L219.5 263.2 L220.0 263.4 L220.5 263.6 L221.0 263.8 L221.5 264.0 L222.0 264.2 L222.5 264.4 L223.0 264.5 L223.5 264.7 L224.0 264.8 L224.5 264.9 L225.0 265.0 L225.5 265.1 L226.0 265.2 L226.5 265.2 L227.0 265.3 L227.5 265.4 L228.0 265.4 L228.5 265.5 L229.0 265.6 L229.5 265.6 L230.0 265.7 L230.5 265.8 L231.0 265.9 L231.5 266.1 L232.0 266.2 L232.5 266.4 L233.0 266.5 L233.5 266.7 L234.0 266.9 L234.5 267.2 L235.0 267.4 L235.5 267.6 L236.0 267.9 L236.5 268.1 L237.0 268.4 L237.5 268.7 L238.0 269.0 L238.5 269.2 L239.0 269.5 L239.5 269.8 L240.0 270.0 L240.5 270.3 L241.0 270.5 L241.5 270.8 L242.0 271.0 L242.5 271.2 L243.0 271.4 L243.5 271.5 L244.0 271.7 L244.5 271.8 L245.0 271.9 L245.5 272.0 L246.0 272.1 L246.5 272.2 L247.0 272.3 L247.5 272.4 L248.0 272.5 L248.5 272.5 L249.0 272.6 L249.5 272.7 L250.0 272.8 L250.5 272.9 L251.0 273.0 L251.5 273.1 L252.0 273.2 L252.5 273.4 L253.0 273.5 L253.5 273.7 L254.0 273.9 L254.5 274.1 L255.0 274.3 L255.5 274.6 L256.0 274.8 L256.5 275.1 L257.0 275.3 L257.5 275.6 L258.0 275.9 L258.5 276.1 L259.0 276.4 L259.5 276.7 L260.0 276.9 L260.5 277.2 L261.0 277.4 L261.5 277.6 L262.0 277.9 L262.5 278.0 L263.0 278.2 L263.5 278.4 L264.0 278.5 L264.5 278.7 L265.0 278.8 L265.5 278.9 L266.0 279.0 L266.5 279.1 L267.0 279.2 L267.5 279.2 L268.0 279.3 L268.5 279.4 L269.0 279.4 L269.5 279.5 L270.0 279.6 L270.5 279.6 L271.0 279.7 L271.5 279.8 L272.0 279.9 L272.5 280.1 L273.0 280.2 L273.5 280.3 L274.0 280.5 L274.5 280.7 L275.0 280.9 L275.5 281.1 L276.0 281.3 L276.5 281.6 L277.0 281.8 L277.5 282.1 L278.0 282.3 L278.5 282.6 L279.0 282.8 L279.5 283.1 L280.0 283.3 L280.5 283.5 L281.0 283.7 L281.5 283.9 L282.0 284.1 L282.5 284.3 L283.0 284.4 L283.5 284.6 L284.0 284.7 L284.5 284.8 L285.0 284.9 L285.5 284.9 L286.0 285.0 L286.5 285.0 L287.0 285.0 L287.5 285.0 L288.0 285.0 L288.5 285.0 L289.0 285.0 L289.5 285.0 L290.0 285.0 L290.5 285.0 L291.0 285.0 L291.5 285.1 L292.0 285.1 L292.5 285.2 L293.0 285.2 L293.5 285.3 L294.0 285.4 L294.5 285.5 L295.0 285.7 L295.5 285.8 L296.0 286.0 L296.5 286.2 L297.0 286.4 L297.5 286.6 L298.0 286.8 L298.5 287.0 L299.0 287.2 L299.5 287.4 L300.0 287.6 L300.5 287.8 L301.0 288.0 L301.5 288.2 L302.0 288.3 L302.5 288.5 L303.0 288.6 L303.5 288.7 L304.0 288.8 L304.5 288.9 L305.0 288.9 L305.5 288.9 L306.0 289.0 L306.5 288.9 L307.0 288.9 L307.5 288.9 L308.0 288.9 L308.5 288.8 L309.0 288.8 L309.5 288.8 L310.0 288.7 L310.5 288.7 L311.0 288.7 L311.5 288.6 L312.0 288.6 L312.5 288.6 L313.0 288.7 L313.5 288.7 L314.0 288.7 L314.5 288.8 L315.0 288.9 L315.5 289.0 L316.0 289.2 L316.5 289.3 L317.0 289.4 L317.5 289.6 L318.0 289.8 L318.5 290.0 L319.0 290.2 L319.5 290.3 L320.0 290.5 L320.5 290.7 L321.0 290.9 L321.5 291.0 L322.0 291.2 L322.5 291.3 L323.0 291.4 L323.5 291.5 L324.0 291.6 L324.5 291.7 L325.0 291.7 L325.5 291.8 L326.0 291.8 L326.5 291.8 L327.0 291.8 L327.5 291.7 L328.0 291.7 L328.5 291.6 L329.0 291.6 L329.5 291.5 L330.0 291.5 L330.5 291.4 L331.0 291.4 L331.5 291.3 L332.0 291.3 L332.5 291.3 L333.0 291.3 L333.5 291.3 L334.0 291.3 L334.5 291.3 L335.0 291.4 L335.5 291.5 L336.0 291.6 L336.5 291.7 L337.0 291.8 L337.5 291.9 L338.0 292.0 L338.5 292.2 L339.0 292.3 L339.5 292.5 L340.0 292.6 L340.5 292.8 L341.0 292.9 L341.5 293.0 L342.0 293.2 L342.5 293.3 L343.0 293.4 L343.5 293.4 L344.0 293.5 L344.5 293.5 L345.0 293.6 L345.5 293.6 L346.0 293.6 L346.5 293.5 L347.0 293.5 L347.5 293.4 L348.0 293.4 L348.5 293.3 L349.0 293.2 L349.5 293.1 L350.0 293.0 L350.5 292.9 L351.0 292.8 L351.5 292.8 L352.0 292.7 L352.5 292.6 L353.0 292.6 L353.5 292.5 L354.0 292.5 L354.5 292.5 L355.0 292.5 L355.5 292.5 L356.0 292.6 L356.5 292.6 L357.0 292.7 L357.5 292.8 L358.0 292.9 L358.5 293.0 L359.0 293.1 L359.5 293.2 L360.0 293.3 L360.5 293.4 L361.0 293.5 L361.5 293.6 L362.0 293.7 L362.5 293.8 L363.0 293.9 L363.5 293.9 L364.0 294.0 L364.5 294.0 L365.0 294.0 L365.5 294.0 L366.0 294.0 L366.5 293.9 L367.0 293.9 L367.5 293.8 L368.0 293.7 L368.5 293.6 L369.0 293.5 L369.5 293.4 L370.0 293.3 L370.5 293.2 L371.0 293.0 L371.5 292.9 L372.0 292.8 L372.5 292.7 L373.0 292.7 L373.5 292.6 L374.0 292.5 L374.5 292.5 L375.0 292.5 L375.5 292.5 L376.0 292.5 L376.5 292.5 L377.0 292.6 L377.5 292.6 L378.0 292.7 L378.5 292.8 L379.0 292.8 L379.5 292.9 L380.0 293.0 L380.5 293.1 L381.0 293.2 L381.5 293.3 L382.0 293.4 L382.5 293.4 L383.0 293.5 L383.5 293.5 L384.0 293.5 L384.5 293.5 L385.0 293.5 L385.5 293.5 L386.0 293.5 L386.5 293.4 L387.0 293.3 L387.5 293.2 L388.0 293.1 L388.5 293.0 L389.0 292.9 L389.5 292.7 L390.0 292.6 L390.5 292.4 L391.0 292.3 L391.5 292.1 L392.0 292.0 L392.5 291.9 L393.0 291.7 L393.5 291.6 L394.0 291.5 L394.5 291.4 L395.0 291.4 L395.5 291.3 L396.0 291.3 L396.5 291.2 L397.0 291.2 L397.5 291.2 L398.0 291.3 L398.5 291.3 L399.0 291.3 L399.5 291.4 L400.0 291.4 L400.5 291.5 L401.0 291.5 L401.5 291.6 L402.0 291.6 L402.5 291.7 L403.0 291.7 L403.5 291.7 L404.0 291.7 L404.5 291.7 L405.0 291.7 L405.5 291.6 L406.0 291.6 L406.5 291.5 L407.0 291.4 L407.5 291.3 L408.0 291.1 L408.5 291.0 L409.0 290.8 L409.5 290.7 L410.0 290.5 L410.5 290.3 L411.0 290.2 L411.5 290.0 L412.0 289.8 L412.5 289.7 L413.0 289.5 L413.5 289.4 L414.0 289.2 L414.5 289.1 L415.0 289.0 L415.5 288.9 L416.0 288.9 L416.5 288.8 L417.0 288.8 L417.5 288.8 L418.0 288.8 L418.5 288.8 L419.0 288.8 L419.5 288.9 L420.0 288.9 L420.5 289.0 L421.0 289.0 L421.5 289.1 L422.0 289.1 L422.5 289.2 L423.0 289.2 L423.5 289.3 L424.0 289.3 L424.5 289.3 L425.0 289.3 L425.5 289.2 L426.0 289.2 L426.5 289.1 L427.0 289.1 L427.5 289.0 L428.0 288.9 L428.5 288.7 L429.0 288.6 L429.5 288.5 L430.0 288.3 L430.5 288.2 L431.0 288.0 L431.5 287.8 L432.0 287.7 L432.5 287.5 L433.0 287.4 L433.5 287.2 L434.0 287.1 L434.5 287.0 L435.0 286.9 L435.5 286.8 L436.0 286.7 L436.5 286.6 L437.0 286.6 L437.5 286.6 L438.0 286.5 L438.5 286.5 L439.0 286.5 L439.5 286.6 L440.0 286.6 L440.5 286.6 L441.0 286.7 L441.5 286.7 L442.0 286.7 L442.5 286.8 L443.0 286.8 L443.5 286.8 L444.0 286.8 L444.5 286.8 L445.0 286.8 L445.5 286.7 L446.0 286.7 L446.5 286.6 L447.0 286.5 L447.5 286.4 L448.0 286.3 L448.5 286.2 L449.0 286.0 L449.5 285.9 L450.0 285.7 L450.5 285.5 L451.0 285.4 L451.5 285.2 L452.0 285.0 L452.5 284.8 L453.0 284.7 L453.5 284.5 L454.0 284.4 L454.5 284.2 L455.0 284.1 L455.5 284.0 L456.0 283.9 L456.5 283.8 L457.0 283.7 L457.5 283.7 L458.0 283.7 L458.5 283.6 L459.0 283.6 L459.5 283.6 L460.0 283.7 L460.5 283.7 L461.0 283.7 L461.5 283.7 L462.0 283.8 L462.5 283.8 L463.0 283.8 L463.5 283.9 L464.0 283.9 L464.5 283.9 L465.0 283.9 L465.5 283.8 L466.0 283.8 L466.5 283.7 L467.0 283.6 L467.5 283.5 L468.0 283.4 L468.5 283.3 L469.0 283.2 L469.5 283.0 L470.0 282.9 L470.5 282.7 L471.0 282.5 L471.5 282.3 L472.0 282.1 L472.5 281.9 L473.0 281.8 L473.5 281.6 L474.0 281.4 L474.5 281.3 L475.0 281.1 L475.5 281.0 L476.0 280.9 L476.5 280.8 L477.0 280.7 L477.5 280.6 L478.0 280.6 L478.5 280.6 L479.0 280.5 L479.5 280.5 L480.0 280.5 L480.5 280.6 L481.0 280.6 L481.5 280.6 L482.0 280.7 L482.5 280.7 L483.0 280.7 L483.5 280.8 L484.0 280.8 L484.5 280.8 L485.0 280.8 L485.5 280.8 L486.0 280.7 L486.5 280.7 L487.0 280.6 L487.5 280.6 L488.0 280.5 L488.5 280.4 L489.0 280.2 L489.5 280.1 L490.0 280.0 L490.5 279.8 L491.0 279.6 L491.5 279.5 L492.0 279.3 L492.5 279.1 L493.0 278.9 L493.5 278.8 L494.0 278.6 L494.5 278.5 L495.0 278.3 L495.5 278.2 L496.0 278.1 L496.5 278.0 L497.0 277.9 L497.5 277.8 L498.0 277.8 L498.5 277.7 L499.0 277.7 L499.5 277.7 L500.0 277.7 L500.5 277.8 L501.0 277.8 L501.5 277.8 L502.0 277.9 L502.5 277.9 L503.0 277.9 L503.5 278.0 L504.0 278.0 L504.5 278.0 L505.0 278.0 L505.5 278.0 L506.0 278.0 L506.5 278.0 L507.0 278.0 L507.5 277.9 L508.0 277.8 L508.5 277.7 L509.0 277.6 L509.5 277.5 L510.0 277.4 L510.5 277.2 L511.0 277.1 L511.5 276.9 L512.0 276.7 L512.5 276.5 L513.0 276.4 L513.5 276.2 L514.0 276.0 L514.5 275.9 L515.0 275.7 L515.5 275.6 L516.0 275.5 L516.5 275.3 L517.0 275.2 L517.5 275.2 L518.0 275.1 L518.5 275.1 L519.0 275.0 L519.5 275.0 L520.0 275.0 L520.5 275.0 L521.0 275.1 L521.5 275.1 L522.0 275.1 L522.5 275.2 L523.0 275.2 L523.5 275.2 L524.0 275.3 L524.5 275.3 L525.0 275.3 L525.5 275.3 L526.0 275.3 L526.5 275.3 L527.0 275.3 L527.5 275.2 L528.0 275.2 L528.5 275.1 L529.0 275.0 L529.3 274.9" stroke="#0a8088"/>
<path d="M63.2 158.0 L63.3 156.7 L63.4 155.4 L63.5 154.2 L63.6 152.9 L63.7 151.7 L63.8 150.4 L63.9 149.2 L64.0 148.0 L64.1 146.8 L64.2 145.6 L64.3 144.5 L64.4 143.4 L64.5 142.2 L64.6 141.1 L64.7 139.9 L64.8 138.7 L64.9 137.5 L65.0 136.2 L65.1 134.9 L65.2 133.5 L65.3 132.2 L65.4 130.8 L65.5 129.4 L65.6 128.0 L65.7 126.7 L65.8 125.3 L65.9 124.0 L66.0 122.7 L66.1 121.4 L66.2 120.2 L66.3 119.1 L66.4 118.0 L66.5 117.0 L66.6 116.0 L66.7 115.1 L66.8 114.1 L66.9 113.2 L67.0 112.3 L67.1 111.4 L67.2 110.6 L67.3 109.7 L67.4 108.9 L67.5 108.2 L67.6 107.5 L67.7 106.8 L67.8 106.1 L67.9 105.5 L68.0 105.0 L68.1 104.5 L68.2 104.0 L68.3 103.6 L68.4 103.2 L68.5 102.8 L68.6 102.4 L68.7 102.1 L68.8 101.8 L68.9 101.4 L69.0 101.1 L69.1 100.8 L69.2 100.6 L69.3 100.3 L69.4 100.0 L69.5 99.8 L69.6 99.5 L69.7 99.3 L69.8 99.0 L69.9 98.8 L70.0 98.5 L70.1 98.3 L70.2 98.1 L70.3 97.9 L70.4 97.7 L70.5 97.4 L70.6 97.2 L70.7 97.0 L70.8 96.8 L70.9 96.7 L71.0 96.5 L71.1 96.3 L71.2 96.1 L71.3 95.9 L71.4 95.8 L71.5 95.6 L71.6 95.4 L71.7 95.3 L71.8 95.1 L71.9 95.0 L72.0 94.8 L72.1 94.7 L72.2 94.5 L72.3 94.4 L72.4 94.2 L72.5 94.1 L72.6 93.9 L72.7 93.8 L72.8 93.7 L72.9 93.5 L73.0 93.4 L73.1 93.3 L73.2 93.2 L73.3 93.1 L73.4 92.9 L73.5 92.8 L73.6 92.7 L73.7 92.6 L73.8 92.5 L73.9 92.4 L74.0 92.3 L74.1 92.2 L74.2 92.1 L74.3 92.0 L74.4 91.9 L74.5 91.8 L74.6 91.7 L74.7 91.6 L74.8 91.5 L74.9 91.5 L75.0 91.4 L75.1 91.3 L75.2 91.2 L75.3 91.1 L75.4 91.0 L75.5 91.0 L75.6 90.9 L75.7 90.8 L75.8 90.7 L75.9 90.7 L76.0 90.6 L76.1 90.5 L76.2 90.5 L76.3 90.4 L76.4 90.3 L76.5 90.3 L76.6 90.2 L76.7 90.1 L76.8 90.1 L76.9 90.0 L77.0 89.9 L77.1 89.9 L77.2 89.8 L77.3 89.8 L77.4 89.7 L77.5 89.7 L77.6 89.6 L77.7 89.5 L77.8 89.5 L77.9 89.4 L78.0 89.4 L78.1 89.4 L78.2 89.3 L78.3 89.3 L78.4 89.2 L78.5 89.2 L78.6 89.1 L78.7 89.1 L78.8 89.0 L78.9 89.0 L79.0 88.9 L79.1 88.9 L79.2 88.8 L79.3 88.8 L79.4 88.8 L79.5 88.7 L79.6 88.7 L79.7 88.6 L79.8 88.6 L79.9 88.6 L80.0 88.5 L80.1 88.5 L80.2 88.4 L80.3 88.4 L80.4 88.4 L80.5 88.3 L80.6 88.3 L80.7 88.2 L80.8 88.2 L80.9 88.2 L81.0 88.1 L81.1 88.1 L81.2 88.1 L81.3 88.0 L81.4 88.0 L81.5 88.0 L81.6 88.0 L81.7 87.9 L81.8 87.9 L81.9 87.9 L82.0 87.8 L82.1 87.8 L82.2 87.8 L82.3 87.8 L82.4 87.8 L82.5 87.7 L82.6 87.7 L82.7 87.7 L82.8 87.7 L82.9 87.6 L83.0 87.6 L83.1 87.6 L83.2 87.6 L83.3 87.6 L83.4 87.6 L83.5 87.5 L83.6 87.5 L83.7 87.5 L83.8 87.5 L83.9 87.5 L84.0 87.4 L84.1 87.4 L84.2 87.4 L84.3 87.4 L84.4 87.4 L84.5 87.4 L84.6 87.3 L84.7 87.3 L84.8 87.3 L84.9 87.3 L85.0 87.3 L85.1 87.3 L85.2 87.2 L85.3 87.2 L85.4 87.2 L85.5 87.2 L85.6 87.2 L85.7 87.2 L85.8 87.2 L85.9 87.1 L86.0 87.1 L86.1 87.1 L86.2 87.1 L86.3 87.1 L86.4 87.1 L86.5 87.1 L86.6 87.1 L86.7 87.1 L86.8 87.0 L86.9 87.0 L87.0 87.0 L87.1 87.0 L87.2 87.0 L87.3 87.0 L87.4 87.0 L87.5 87.0 L87.6 87.0 L87.7 87.0 L87.8 87.0 L87.9 87.0 L88.0 87.0 L88.1 87.0 L88.2 87.0 L88.3 87.0 L88.4 87.0 L88.5 87.0 L88.6 87.0 L88.7 87.0 L88.8 87.0 L88.9 87.0 L89.0 87.0 L89.1 87.0 L89.2 87.0 L89.3 87.0 L89.4 87.0 L89.5 87.0 L89.6 87.0 L89.7 87.0 L89.8 87.0 L89.9 87.0 L90.0 87.0 L90.1 87.0 L90.2 87.0 L90.3 87.0 L90.4 87.0 L90.5 87.0 L90.6 87.0 L90.7 87.0 L90.8 87.0 L90.9 87.0 L91.0 87.0 L91.1 87.0 L91.2 87.0 L91.3 87.0 L91.4 87.1 L91.5 87.1 L91.6 87.1 L91.7 87.1 L91.8 87.1 L91.9 87.1 L92.0 87.0 L92.1 87.0 L92.2 87.0 L92.3 87.1 L92.4 87.1 L92.5 87.1 L92.6 87.1 L92.7 87.1 L92.8 87.1 L92.9 87.1 L93.0 87.2 L93.1 87.2 L93.2 87.2 L93.3 87.2 L93.4 87.2 L93.5 87.2 L93.6 87.2 L93.7 87.3 L93.8 87.3 L93.9 87.3 L94.0 87.3 L94.1 87.3 L94.2 87.4 L94.3 87.4 L94.4 87.4 L94.5 87.4 L94.6 87.4 L94.7 87.4 L94.8 87.5 L94.9 87.5 L95.0 87.5 L95.1 87.5 L95.2 87.6 L95.3 87.6 L95.4 87.6 L95.5 87.6 L95.6 87.6 L95.7 87.7 L95.8 87.7 L95.9 87.7 L96.0 87.7 L96.1 87.7 L96.2 87.8 L96.3 87.8 L96.4 87.8 L96.5 87.8 L96.6 87.9 L96.7 87.9 L96.8 87.9 L96.9 87.9 L97.0 88.0 L97.1 88.0 L97.2 88.0 L97.3 88.0 L97.4 88.0 L97.5 88.1 L97.6 88.1 L97.7 88.1 L97.8 88.1 L97.9 88.2 L98.0 88.2 L98.1 88.2 L98.2 88.2 L98.3 88.3 L98.4 88.3 L98.5 88.3 L98.6 88.3 L98.7 88.4 L98.8 88.4 L98.9 88.4 L99.0 88.4 L99.1 88.5 L99.2 88.5 L99.3 88.5 L99.4 88.5 L99.5 88.6 L99.6 88.6 L99.7 88.6 L99.8 88.6 L99.9 88.7 L100.0 88.7 L100.5 88.8 L101.0 88.9 L101.5 89.0 L102.0 89.1 L102.5 89.3 L103.0 89.4 L103.5 89.5 L104.0 89.6 L104.5 89.8 L105.0 89.9 L105.5 90.0 L106.0 90.1 L106.5 90.3 L107.0 90.4 L107.5 90.5 L108.0 90.7 L108.5 90.8 L109.0 90.9 L109.5 91.1 L110.0 91.2 L110.5 91.3 L111.0 91.5 L111.5 91.6 L112.0 91.7 L112.5 91.8 L113.0 92.0 L113.5 92.1 L114.0 92.3 L114.5 92.4 L115.0 92.5 L115.5 92.7 L116.0 92.8 L116.5 93.0 L117.0 93.1 L117.5 93.3 L118.0 93.5 L118.5 93.6 L119.0 93.8 L119.5 94.0 L120.0 94.2 L120.5 94.5 L121.0 94.7 L121.5 94.9 L122.0 95.2 L122.5 95.4 L123.0 95.7 L123.5 96.0 L124.0 96.3 L124.5 96.5 L125.0 96.8 L125.5 97.1 L126.0 97.4 L126.5 97.7 L127.0 98.0 L127.5 98.2 L128.0 98.5 L128.5 98.8 L129.0 99.0 L129.5 99.3 L130.0 99.5 L130.5 99.8 L131.0 100.0 L131.5 100.2 L132.0 100.4 L132.5 100.6 L133.0 100.8 L133.5 100.9 L134.0 101.1 L134.5 101.3 L135.0 101.4 L135.5 101.6 L136.0 101.7 L136.5 101.9 L137.0 102.0 L137.5 102.2 L138.0 102.3 L138.5 102.5 L139.0 102.6 L139.5 102.8 L140.0 103.0 L140.5 103.2 L141.0 103.4 L141.5 103.6 L142.0 103.9 L142.5 104.1 L143.0 104.3 L143.5 104.6 L144.0 104.9 L144.5 105.1 L145.0 105.4 L145.5 105.7 L146.0 105.9 L146.5 106.2 L147.0 106.5 L147.5 106.7 L148.0 107.0 L148.5 107.3 L149.0 107.5 L149.5 107.7 L150.0 107.9 L150.5 108.1 L151.0 108.3 L151.5 108.5 L152.0 108.6 L152.5 108.8 L153.0 108.9 L153.5 109.0 L154.0 109.1 L154.5 109.2 L155.0 109.3 L155.5 109.3 L156.0 109.4 L156.5 109.5 L157.0 109.6 L157.5 109.6 L158.0 109.7 L158.5 109.8 L159.0 109.8 L159.5 109.9 L160.0 110.0 L160.5 110.1 L161.0 110.2 L161.5 110.3 L162.0 110.5 L162.5 110.6 L163.0 110.8 L163.5 111.0 L164.0 111.1 L164.5 111.3 L165.0 111.5 L165.5 111.7 L166.0 111.9 L166.5 112.1 L167.0 112.2 L167.5 112.4 L168.0 112.6 L168.5 112.8 L169.0 113.0 L169.5 113.1 L170.0 113.3 L170.5 113.4 L171.0 113.5 L171.5 113.7 L172.0 113.8 L172.5 113.9 L173.0 113.9 L173.5 114.0 L174.0 114.1 L174.5 114.1 L175.0 114.2 L175.5 114.2 L176.0 114.2 L176.5 114.2 L177.0 114.3 L177.5 114.3 L178.0 114.3 L178.5 114.3 L179.0 114.3 L179.5 114.3 L180.0 114.3 L180.5 114.3 L181.0 114.4 L181.5 114.4 L182.0 114.4 L182.5 114.4 L183.0 114.5 L183.5 114.5 L184.0 114.6 L184.5 114.6 L185.0 114.7 L185.5 114.7 L186.0 114.8 L186.5 114.8 L187.0 114.9 L187.5 114.9 L188.0 114.9 L188.5 115.0 L189.0 115.0 L189.5 115.0 L190.0 115.0 L190.5 115.0 L191.0 115.0 L191.5 115.0 L192.0 115.0 L192.5 115.0 L193.0 114.9 L193.5 114.9 L194.0 114.8 L194.5 114.7 L195.0 114.6 L195.5 114.5 L196.0 114.5 L196.5 114.3 L197.0 114.2 L197.5 114.1 L198.0 114.0 L198.5 113.9 L199.0 113.8 L199.5 113.6 L200.0 113.5 L200.5 113.4 L201.0 113.3 L201.5 113.2 L202.0 113.1 L202.5 112.9 L203.0 112.8 L203.5 112.7 L204.0 112.6 L204.5 112.5 L205.0 112.4 L205.5 112.3 L206.0 112.2 L206.5 112.1 L207.0 112.0 L207.5 111.9 L208.0 111.8 L208.5 111.7 L209.0 111.6 L209.5 111.5 L210.0 111.4 L210.5 111.2 L211.0 111.1 L211.5 111.0 L212.0 110.8 L212.5 110.7 L213.0 110.6 L213.5 110.4 L214.0 110.3 L214.5 110.1 L215.0 109.9 L215.5 109.8 L216.0 109.6 L216.5 109.4 L217.0 109.2 L217.5 109.0 L218.0 108.9 L218.5 108.7 L219.0 108.5 L219.5 108.3 L220.0 108.1 L220.5 108.0 L221.0 107.8 L221.5 107.6 L222.0 107.5 L222.5 107.3 L223.0 107.1 L223.5 107.0 L224.0 106.8 L224.5 106.7 L225.0 106.5 L225.5 106.4 L226.0 106.3 L226.5 106.1 L227.0 106.0 L227.5 105.9 L228.0 105.7 L228.5 105.6 L229.0 105.4 L229.5 105.3 L230.0 105.2 L230.5 105.0 L231.0 104.9 L231.5 104.7 L232.0 104.5 L232.5 104.4 L233.0 104.2 L233.5 104.0 L234.0 103.9 L234.5 103.7 L235.0 103.5 L235.5 103.3 L236.0 103.1 L236.5 102.9 L237.0 102.7 L237.5 102.5 L238.0 102.3 L238.5 102.1 L239.0 101.8 L239.5 101.6 L240.0 101.4 L240.5 101.2 L241.0 101.0 L241.5 100.8 L242.0 100.7 L242.5 100.5 L243.0 100.3 L243.5 100.1 L244.0 99.9 L244.5 99.8 L245.0 99.6 L245.5 99.5 L246.0 99.3 L246.5 99.2 L247.0 99.0 L247.5 98.9 L248.0 98.7 L248.5 98.6 L249.0 98.4 L249.5 98.3 L250.0 98.2 L250.5 98.0 L251.0 97.9 L251.5 97.7 L252.0 97.5 L252.5 97.4 L253.0 97.2 L253.5 97.0 L254.0 96.9 L254.5 96.7 L255.0 96.5 L255.5 96.3 L256.0 96.1 L256.5 95.9 L257.0 95.7 L257.5 95.5 L258.0 95.3 L258.5 95.1 L259.0 94.9 L259.5 94.7 L260.0 94.5 L260.5 94.3 L261.0 94.1 L261.5 93.9 L262.0 93.8 L262.5 93.6 L263.0 93.4 L263.5 93.2 L264.0 93.1 L264.5 92.9 L265.0 92.8 L265.5 92.6 L266.0 92.5 L266.5 92.3 L267.0 92.2 L267.5 92.1 L268.0 91.9 L268.5 91.8 L269.0 91.7 L269.5 91.6 L270.0 91.4 L270.5 91.3 L271.0 91.1 L271.5 91.0 L272.0 90.9 L272.5 90.7 L273.0 90.6 L273.5 90.4 L274.0 90.3 L274.5 90.1 L275.0 90.0 L275.5 89.8 L276.0 89.7 L276.5 89.5 L277.0 89.3 L277.5 89.2 L278.0 89.0 L278.5 88.8 L279.0 88.7 L279.5 88.5 L280.0 88.4 L280.5 88.2 L281.0 88.1 L281.5 87.9 L282.0 87.8 L282.5 87.7 L283.0 87.6 L283.5 87.4 L284.0 87.3 L284.5 87.2 L285.0 87.2 L285.5 87.1 L286.0 87.0 L286.5 86.9 L287.0 86.9 L287.5 86.8 L288.0 86.8 L288.5 86.7 L289.0 86.7 L289.5 86.6 L290.0 86.6 L290.5 86.5 L291.0 86.5 L291.5 86.4 L292.0 86.4 L292.5 86.3 L293.0 86.2 L293.5 86.1 L294.0 86.0 L294.5 86.0 L295.0 85.8 L295.5 85.7 L296.0 85.6 L296.5 85.5 L297.0 85.4 L297.5 85.2 L298.0 85.1 L298.5 85.0 L299.0 84.8 L299.5 84.7 L300.0 84.6 L300.5 84.4 L301.0 84.3 L301.5 84.2 L302.0 84.0 L302.5 83.9 L303.0 83.8 L303.5 83.7 L304.0 83.7 L304.5 83.6 L305.0 83.5 L305.5 83.4 L306.0 83.4 L306.5 83.3 L307.0 83.3 L307.5 83.3 L308.0 83.2 L308.5 83.2 L309.0 83.2 L309.5 83.1 L310.0 83.1 L310.5 83.1 L311.0 83.0 L311.5 83.0 L312.0 83.0 L312.5 82.9 L313.0 82.9 L313.5 82.8 L314.0 82.7 L314.5 82.7 L315.0 82.6 L315.5 82.5 L316.0 82.4 L316.5 82.3 L317.0 82.2 L317.5 82.1 L318.0 82.0 L318.5 81.9 L319.0 81.8 L319.5 81.6 L320.0 81.5 L320.5 81.4 L321.0 81.3 L321.5 81.2 L322.0 81.1 L322.5 81.0 L323.0 80.9 L323.5 80.8 L324.0 80.8 L324.5 80.7 L325.0 80.6 L325.5 80.6 L326.0 80.5 L326.5 80.5 L327.0 80.5 L327.5 80.4 L328.0 80.4 L328.5 80.4 L329.0 80.4 L329.5 80.4 L330.0 80.3 L330.5 80.3 L331.0 80.3 L331.5 80.3 L332.0 80.3 L332.5 80.2 L333.0 80.2 L333.5 80.2 L334.0 80.1 L334.5 80.1 L335.0 80.1 L335.5 80.0 L336.0 79.9 L336.5 79.9 L337.0 79.8 L337.5 79.7 L338.0 79.7 L338.5 79.6 L339.0 79.5 L339.5 79.4 L340.0 79.3 L340.5 79.3 L341.0 79.2 L341.5 79.1 L342.0 79.1 L342.5 79.0 L343.0 78.9 L343.5 78.9 L344.0 78.9 L344.5 78.8 L345.0 78.8 L345.5 78.8 L346.0 78.8 L346.5 78.8 L347.0 78.8 L347.5 78.8 L348.0 78.8 L348.5 78.8 L349.0 78.8 L349.5 78.8 L350.0 78.8 L350.5 78.9 L351.0 78.9 L351.5 78.9 L352.0 78.9 L352.5 78.9 L353.0 78.9 L353.5 78.9 L354.0 78.9 L354.5 78.9 L355.0 78.9 L355.5 78.9 L356.0 78.9 L356.5 78.9 L357.0 78.8 L357.5 78.8 L358.0 78.8 L358.5 78.7 L359.0 78.7 L359.5 78.6 L360.0 78.6 L360.5 78.6 L361.0 78.5 L361.5 78.5 L362.0 78.4 L362.5 78.4 L363.0 78.4 L363.5 78.4 L364.0 78.4 L364.5 78.4 L365.0 78.4 L365.5 78.4 L366.0 78.4 L366.5 78.4 L367.0 78.4 L367.5 78.4 L368.0 78.5 L368.5 78.5 L369.0 78.6 L369.5 78.6 L370.0 78.6 L370.5 78.7 L371.0 78.7 L371.5 78.8 L372.0 78.8 L372.5 78.8 L373.0 78.9 L373.5 78.9 L374.0 78.9 L374.5 79.0 L375.0 79.0 L375.5 79.0 L376.0 79.0 L376.5 79.0 L377.0 79.0 L377.5 79.0 L378.0 78.9 L378.5 78.9 L379.0 78.9 L379.5 78.9 L380.0 78.9 L380.5 78.8 L381.0 78.8 L381.5 78.8 L382.0 78.8 L382.5 78.8 L383.0 78.8 L383.5 78.8 L384.0 78.8 L384.5 78.8 L385.0 78.8 L385.5 78.8 L386.0 78.9 L386.5 78.9 L387.0 79.0 L387.5 79.0 L388.0 79.1 L388.5 79.2 L389.0 79.2 L389.5 79.3 L390.0 79.4 L390.5 79.5 L391.0 79.5 L391.5 79.6 L392.0 79.7 L392.5 79.8 L393.0 79.8 L393.5 79.9 L394.0 80.0 L394.5 80.0 L395.0 80.1 L395.5 80.1 L396.0 80.2 L396.5 80.2 L397.0 80.3 L397.5 80.3 L398.0 80.3 L398.5 80.3 L399.0 80.4 L399.5 80.4 L400.0 80.4 L400.5 80.4 L401.0 80.4 L401.5 80.4 L402.0 80.4 L402.5 80.5 L403.0 80.5 L403.5 80.5 L404.0 80.6 L404.5 80.6 L405.0 80.7 L405.5 80.7 L406.0 80.8 L406.5 80.8 L407.0 80.9 L407.5 81.0 L408.0 81.1 L408.5 81.2 L409.0 81.3 L409.5 81.4 L410.0 81.5 L410.5 81.6 L411.0 81.7 L411.5 81.8 L412.0 81.9 L412.5 82.0 L413.0 82.1 L413.5 82.2 L414.0 82.3 L414.5 82.4 L415.0 82.4 L415.5 82.5 L416.0 82.6 L416.5 82.6 L417.0 82.7 L417.5 82.7 L418.0 82.8 L418.5 82.8 L419.0 82.8 L419.5 82.8 L420.0 82.8 L420.5 82.9 L421.0 82.9 L421.5 82.9 L422.0 82.9 L422.5 82.9 L423.0 82.9 L423.5 83.0 L424.0 83.0 L424.5 83.0 L425.0 83.1 L425.5 83.1 L426.0 83.2 L426.5 83.2 L427.0 83.3 L427.5 83.3 L428.0 83.4 L428.5 83.5 L429.0 83.6 L429.5 83.6 L430.0 83.7 L430.5 83.8 L431.0 83.9 L431.5 84.0 L432.0 84.1 L432.5 84.2 L433.0 84.3 L433.5 84.4 L434.0 84.5 L434.5 84.5 L435.0 84.6 L435.5 84.7 L436.0 84.7 L436.5 84.8 L437.0 84.9 L437.5 84.9 L438.0 85.0 L438.5 85.0 L439.0 85.1 L439.5 85.1 L440.0 85.1 L440.5 85.2 L441.0 85.2 L441.5 85.2 L442.0 85.3 L442.5 85.3 L443.0 85.3 L443.5 85.4 L444.0 85.4 L444.5 85.5 L445.0 85.5 L445.5 85.6 L446.0 85.7 L446.5 85.7 L447.0 85.8 L447.5 85.9 L448.0 86.0 L448.5 86.1 L449.0 86.2 L449.5 86.3 L450.0 86.4 L450.5 86.5 L451.0 86.6 L451.5 86.7 L452.0 86.8 L452.5 86.9 L453.0 87.0 L453.5 87.1 L454.0 87.2 L454.5 87.3 L455.0 87.4 L455.5 87.5 L456.0 87.6 L456.5 87.6 L457.0 87.7 L457.5 87.8 L458.0 87.8 L458.5 87.9 L459.0 87.9 L459.5 88.0 L460.0 88.0 L460.5 88.1 L461.0 88.1 L461.5 88.1 L462.0 88.2 L462.5 88.2 L463.0 88.2 L463.5 88.3 L464.0 88.3 L464.5 88.4 L465.0 88.4 L465.5 88.5 L466.0 88.6 L466.5 88.6 L467.0 88.7 L467.5 88.8 L468.0 88.9 L468.5 89.0 L469.0 89.1 L469.5 89.2 L470.0 89.3 L470.5 89.4 L471.0 89.5 L471.5 89.6 L472.0 89.7 L472.5 89.9 L473.0 90.0 L473.5 90.1 L474.0 90.2 L474.5 90.3 L475.0 90.4 L475.5 90.5 L476.0 90.6 L476.5 90.7 L477.0 90.7 L477.5 90.8 L478.0 90.9 L478.5 90.9 L479.0 91.0 L479.5 91.1 L480.0 91.1 L480.5 91.1 L481.0 91.2 L481.5 91.2 L482.0 91.2 L482.5 91.3 L483.0 91.3 L483.5 91.4 L484.0 91.4 L484.5 91.4 L485.0 91.5 L485.5 91.5 L486.0 91.6 L486.5 91.6 L487.0 91.7 L487.5 91.8 L488.0 91.9 L488.5 91.9 L489.0 92.0 L489.5 92.1 L490.0 92.2 L490.5 92.3 L491.0 92.4 L491.5 92.5 L492.0 92.6 L492.5 92.7 L493.0 92.8 L493.5 92.9 L494.0 93.0 L494.5 93.1 L495.0 93.2 L495.5 93.3 L496.0 93.4 L496.5 93.5 L497.0 93.6 L497.5 93.6 L498.0 93.7 L498.5 93.7 L499.0 93.8 L499.5 93.8 L500.0 93.9 L500.5 93.9 L501.0 93.9 L501.5 94.0 L502.0 94.0 L502.5 94.0 L503.0 94.0 L503.5 94.1 L504.0 94.1 L504.5 94.1 L505.0 94.2 L505.5 94.2 L506.0 94.3 L506.5 94.3 L507.0 94.4 L507.5 94.4 L508.0 94.5 L508.5 94.6 L509.0 94.7 L509.5 94.8 L510.0 94.9 L510.5 95.0 L511.0 95.1 L511.5 95.2 L512.0 95.3 L512.5 95.4 L513.0 95.5 L513.5 95.6 L514.0 95.7 L514.5 95.8 L515.0 95.9 L515.5 96.0 L516.0 96.1 L516.5 96.1 L517.0 96.2 L517.5 96.3 L518.0 96.3 L518.5 96.4 L519.0 96.5 L519.5 96.5 L520.0 96.6 L520.5 96.6 L521.0 96.6 L521.5 96.7 L522.0 96.7 L522.5 96.7 L523.0 96.7 L523.5 96.8 L524.0 96.8 L524.5 96.8 L525.0 96.9 L525.5 96.9 L526.0 97.0 L526.5 97.0 L527.0 97.1 L527.5 97.1 L528.0 97.2 L528.5 97.3 L529.0 97.3 L529.3 97.4" stroke="#ff0018" stroke-dasharray="4.9 4.2"/>
</g>
<g font-family="'Liberation Serif', 'DejaVu Serif', serif" font-size="16.8" fill="#262626" stroke="#262626" stroke-width="0.3">
<text x="63.1" y="374.9" text-anchor="middle">0</text>
<text x="156.3" y="374.9" text-anchor="middle">10</text>
<text x="249.6" y="374.9" text-anchor="middle">20</text>
<text x="342.8" y="374.9" text-anchor="middle">30</text>
<text x="436.1" y="374.9" text-anchor="middle">40</text>
<text x="529.3" y="374.9" text-anchor="middle">50</text>
<text><tspan x="36.3" y="359.9" textLength="12.4" lengthAdjust="spacingAndGlyphs">−</tspan><tspan x="49.6" y="358.9">3</tspan></text>
<text><tspan x="36.3" y="303.5" textLength="12.4" lengthAdjust="spacingAndGlyphs">−</tspan><tspan x="49.6" y="302.5">2</tspan></text>
<text><tspan x="36.3" y="247.2" textLength="12.4" lengthAdjust="spacingAndGlyphs">−</tspan><tspan x="49.6" y="246.2">1</tspan></text>
<text x="58" y="189.8" text-anchor="end">0</text>
<text x="58" y="133.4" text-anchor="end">1</text>
<text x="58" y="77.1" text-anchor="end">2</text>
<text x="58" y="20.7" text-anchor="end">3</text>
</g>
<text x="295.4" y="399.5" text-anchor="middle" font-family="'Liberation Serif', 'DejaVu Serif', serif" font-size="18.8" fill="#262626" stroke="#262626" stroke-width="0.12">Time(s)</text>
<g transform="translate(25.6 0) rotate(-90)" font-family="'Liberation Serif', 'DejaVu Serif', serif" font-size="19" fill="#262626" stroke="#262626" stroke-width="0.2">
<text><tspan x="-317.2" y="0" textLength="33.6" lengthAdjust="spacingAndGlyphs">The</tspan> <tspan x="-279.2" y="0" textLength="81.2" lengthAdjust="spacingAndGlyphs">trajectory</tspan> <tspan x="-192.2" y="0" textLength="15.2" lengthAdjust="spacingAndGlyphs">of</tspan> <tspan x="-172.6" y="0" textLength="8.2" lengthAdjust="spacingAndGlyphs" font-style="italic">r</tspan><tspan x="-162.6" y="3.2" textLength="3.4" lengthAdjust="spacingAndGlyphs" font-style="italic" font-size="13.5">i</tspan><tspan x="-157.3" y="0" textLength="6.3" lengthAdjust="spacingAndGlyphs">(</tspan><tspan x="-150.4" y="0" textLength="6.4" lengthAdjust="spacingAndGlyphs" font-style="italic">t</tspan><tspan x="-143.2" y="0" textLength="6.3" lengthAdjust="spacingAndGlyphs">)</tspan> <tspan x="-128.8" y="0" textLength="6.3" lengthAdjust="spacingAndGlyphs">(</tspan><tspan x="-120.2" y="0" textLength="9.5" lengthAdjust="spacingAndGlyphs" font-style="italic">q</tspan> <tspan x="-105.6" y="0" textLength="12.1" lengthAdjust="spacingAndGlyphs">=</tspan> <tspan x="-89.6" y="0" textLength="26.4" lengthAdjust="spacingAndGlyphs">0.8</tspan><tspan x="-62.3" y="0" textLength="6.3" lengthAdjust="spacingAndGlyphs">)</tspan></text>
</g>
<rect x="446.6" y="25.7" width="73.2" height="115.0" fill="#fff" stroke="#262626" stroke-width="1.25"/>
<g font-family="'Liberation Serif', 'DejaVu Serif', serif" font-size="15.8" fill="#000" stroke="#000" stroke-width="0.25">
<path d="M450 36.5 H483.8" stroke="#0b3fb4" stroke-width="1.6" fill="none"/>
<text><tspan x="485.6" y="40.1" font-style="italic" textLength="6.6" lengthAdjust="spacingAndGlyphs">r</tspan><tspan x="493.0" y="42.8" font-size="10.4">1</tspan><tspan x="499.6" y="40.1">(</tspan><tspan x="505" y="40.1" font-style="italic">t</tspan><tspan x="511.8" y="40.1">)</tspan></text>
<path d="M450 55.2 H483.8" stroke="#ff00f0" stroke-width="1.6" fill="none"/>
<text><tspan x="485.6" y="58.8" font-style="italic" textLength="6.6" lengthAdjust="spacingAndGlyphs">r</tspan><tspan x="493.0" y="61.5" font-size="10.4">2</tspan><tspan x="499.6" y="58.8">(</tspan><tspan x="505" y="58.8" font-style="italic">t</tspan><tspan x="511.8" y="58.8">)</tspan></text>
<path d="M450 73.9 H483.8" stroke="#08b420" stroke-width="1.6" fill="none"/>
<text><tspan x="485.6" y="77.5" font-style="italic" textLength="6.6" lengthAdjust="spacingAndGlyphs">r</tspan><tspan x="493.0" y="80.2" font-size="10.4">3</tspan><tspan x="499.6" y="77.5">(</tspan><tspan x="505" y="77.5" font-style="italic">t</tspan><tspan x="511.8" y="77.5">)</tspan></text>
<path d="M450 92.7 H483.8" stroke="#ff5014" stroke-width="1.6" fill="none"/>
<text><tspan x="485.6" y="96.3" font-style="italic" textLength="6.6" lengthAdjust="spacingAndGlyphs">r</tspan><tspan x="493.0" y="99.0" font-size="10.4">4</tspan><tspan x="499.6" y="96.3">(</tspan><tspan x="505" y="96.3" font-style="italic">t</tspan><tspan x="511.8" y="96.3">)</tspan></text>
<path d="M450 111.4 H483.8" stroke="#0a8088" stroke-width="1.6" fill="none"/>
<text><tspan x="485.6" y="115.0" font-style="italic" textLength="6.6" lengthAdjust="spacingAndGlyphs">r</tspan><tspan x="493.0" y="117.7" font-size="10.4">5</tspan><tspan x="499.6" y="115.0">(</tspan><tspan x="505" y="115.0" font-style="italic">t</tspan><tspan x="511.8" y="115.0">)</tspan></text>
<path d="M450 130.1 H483.8" stroke="#ff0018" stroke-width="1.6" fill="none" stroke-dasharray="4.9 4.2"/>
<text><tspan x="485.6" y="133.7" font-style="italic" textLength="6.6" lengthAdjust="spacingAndGlyphs">r</tspan><tspan x="493.0" y="136.4" font-size="10.4">0</tspan><tspan x="499.6" y="133.7">(</tspan><tspan x="505" y="133.7" font-style="italic">t</tspan><tspan x="511.8" y="133.7">)</tspan></text>
</g>
</svg>
</body></html>
